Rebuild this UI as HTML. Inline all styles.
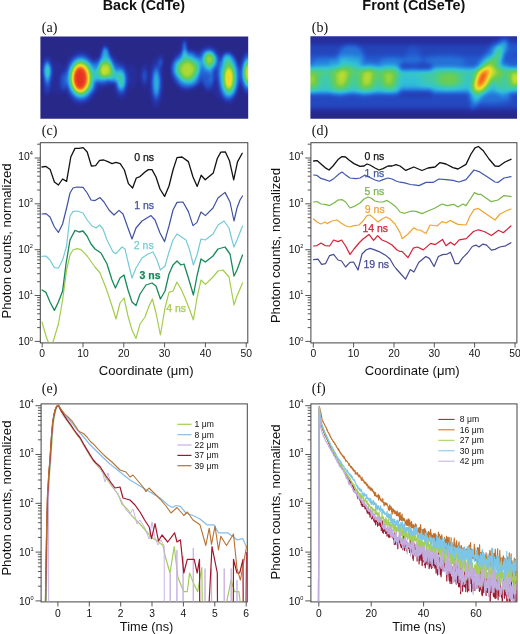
<!DOCTYPE html>
<html lang="en"><head><meta charset="utf-8"><title>Figure</title>
<style>html,body{margin:0;padding:0;background:#fff}svg{display:block}</style>
</head><body>
<svg width="520" height="634" viewBox="0 0 520 634">
<rect width="520" height="634" fill="#fff"/>
<defs>
<filter id="hmA" x="0" y="0" width="100%" height="100%" filterUnits="objectBoundingBox" color-interpolation-filters="sRGB">
<feGaussianBlur stdDeviation="1.7 2.3"/>
<feComponentTransfer><feFuncR type="table" tableValues="0.157 0.154 0.151 0.147 0.144 0.140 0.139 0.145 0.151 0.157 0.170 0.182 0.194 0.219 0.246 0.273 0.327 0.381 0.440 0.542 0.644 0.744 0.836 0.928 0.966 0.973 0.979 0.966 0.952 0.938 0.919 0.901 0.882"/><feFuncG type="table" tableValues="0.157 0.172 0.188 0.215 0.258 0.301 0.350 0.417 0.484 0.552 0.619 0.687 0.754 0.776 0.790 0.803 0.804 0.804 0.806 0.826 0.846 0.864 0.872 0.880 0.819 0.719 0.619 0.510 0.401 0.303 0.248 0.192 0.137"/><feFuncB type="table" tableValues="0.541 0.583 0.624 0.669 0.718 0.767 0.810 0.834 0.859 0.882 0.870 0.857 0.845 0.769 0.680 0.592 0.490 0.388 0.291 0.257 0.223 0.193 0.178 0.162 0.152 0.144 0.137 0.137 0.137 0.137 0.137 0.137 0.137"/><feFuncA type="linear" slope="0" intercept="1"/></feComponentTransfer>
</filter>
<filter id="hmB" x="0" y="0" width="100%" height="100%" filterUnits="objectBoundingBox" color-interpolation-filters="sRGB">
<feGaussianBlur stdDeviation="2.3 2.4"/>
<feComponentTransfer><feFuncR type="table" tableValues="0.157 0.154 0.151 0.147 0.144 0.140 0.139 0.145 0.151 0.157 0.170 0.182 0.194 0.219 0.246 0.273 0.327 0.381 0.440 0.542 0.644 0.744 0.836 0.928 0.966 0.973 0.979 0.966 0.952 0.938 0.919 0.901 0.882"/><feFuncG type="table" tableValues="0.157 0.172 0.188 0.215 0.258 0.301 0.350 0.417 0.484 0.552 0.619 0.687 0.754 0.776 0.790 0.803 0.804 0.804 0.806 0.826 0.846 0.864 0.872 0.880 0.819 0.719 0.619 0.510 0.401 0.303 0.248 0.192 0.137"/><feFuncB type="table" tableValues="0.541 0.583 0.624 0.669 0.718 0.767 0.810 0.834 0.859 0.882 0.870 0.857 0.845 0.769 0.680 0.592 0.490 0.388 0.291 0.257 0.223 0.193 0.178 0.162 0.152 0.144 0.137 0.137 0.137 0.137 0.137 0.137 0.137"/><feFuncA type="linear" slope="0" intercept="1"/></feComponentTransfer>
</filter>
<clipPath id="cA"><rect x="40.4" y="36.4" width="207.8" height="82.4"/></clipPath>
<clipPath id="cB"><rect x="310.4" y="36.2" width="206.6" height="82.6"/></clipPath>
<clipPath id="cC"><rect x="40.8" y="143.1" width="206.5" height="199.2"/></clipPath>
<clipPath id="cD"><rect x="311.3" y="143.2" width="205.1" height="199.2"/></clipPath>
<clipPath id="cE"><rect x="41.6" y="404.3" width="205.2" height="197.1"/></clipPath>
<clipPath id="cF"><rect x="311.4" y="404.3" width="205.2" height="197.2"/></clipPath>
</defs>
<text x="143.9" y="10.4" font-size="14.3" fill="#111" text-anchor="middle" font-weight="bold" font-family='"Liberation Sans", Arial, Helvetica, sans-serif' >Back (CdTe)</text>
<text x="413.8" y="10.4" font-size="14.4" fill="#111" text-anchor="middle" font-weight="bold" font-family='"Liberation Sans", Arial, Helvetica, sans-serif' >Front (CdSeTe)</text>
<text x="41.8" y="32.0" font-size="14" fill="#111" text-anchor="start" font-weight="normal" font-family='"Liberation Serif", "Times New Roman", serif' >(a)</text>
<text x="311.8" y="32.0" font-size="14" fill="#111" text-anchor="start" font-weight="normal" font-family='"Liberation Serif", "Times New Roman", serif' >(b)</text>
<text x="41.8" y="134.5" font-size="14" fill="#111" text-anchor="start" font-weight="normal" font-family='"Liberation Serif", "Times New Roman", serif' >(c)</text>
<text x="311.8" y="134.5" font-size="14" fill="#111" text-anchor="start" font-weight="normal" font-family='"Liberation Serif", "Times New Roman", serif' >(d)</text>
<text x="41.8" y="392.5" font-size="14" fill="#111" text-anchor="start" font-weight="normal" font-family='"Liberation Serif", "Times New Roman", serif' >(e)</text>
<text x="311.8" y="392.5" font-size="14" fill="#111" text-anchor="start" font-weight="normal" font-family='"Liberation Serif", "Times New Roman", serif' >(f)</text>
<g clip-path="url(#cA)"><g filter="url(#hmA)">
<rect x="30" y="26" width="230" height="104" fill="#000"/>
<ellipse cx="47.3" cy="71.0" rx="5.8" ry="14.7" fill="#fff" fill-opacity="0.09"/>
<ellipse cx="47.3" cy="71.0" rx="4.0" ry="10.5" fill="#fff" fill-opacity="0.14"/>
<ellipse cx="47.3" cy="71.0" rx="3.1" ry="8.2" fill="#fff" fill-opacity="0.16"/>
<ellipse cx="47.3" cy="71.0" rx="2.2" ry="5.8" fill="#fff" fill-opacity="0.14"/>
<ellipse cx="47.0" cy="86.0" rx="3.4" ry="9.0" fill="#fff" fill-opacity="0.12"/>
<ellipse cx="63.0" cy="82.0" rx="3.4" ry="10.0" fill="#fff" fill-opacity="0.12"/>
<ellipse cx="57.0" cy="78.0" rx="10.0" ry="16.0" fill="#fff" fill-opacity="0.04"/>
<ellipse cx="81.0" cy="78.0" rx="17.0" ry="26.0" fill="#fff" fill-opacity="0.12"/>
<ellipse cx="95.0" cy="76.0" rx="12.0" ry="16.0" fill="#fff" fill-opacity="0.06"/>
<ellipse cx="200.0" cy="68.0" rx="22.0" ry="18.0" fill="#fff" fill-opacity="0.06"/>
<ellipse cx="225.0" cy="76.0" rx="16.0" ry="24.0" fill="#fff" fill-opacity="0.05"/>
<ellipse cx="81.0" cy="78.0" rx="13.8" ry="21.0" fill="#fff" fill-opacity="0.26"/>
<ellipse cx="80.8" cy="78.0" rx="10.6" ry="16.4" fill="#fff" fill-opacity="0.42"/>
<ellipse cx="80.4" cy="78.2" rx="7.8" ry="13.0" fill="#fff" fill-opacity="0.62"/>
<ellipse cx="80.2" cy="78.4" rx="5.4" ry="10.0" fill="#fff" fill-opacity="0.75"/>
<ellipse cx="105.5" cy="62.0" rx="5.5" ry="15.0" fill="#fff" fill-opacity="0.20"/>
<ellipse cx="105.0" cy="52.0" rx="3.2" ry="6.0" fill="#fff" fill-opacity="0.14"/>
<ellipse cx="106.0" cy="70.0" rx="13.8" ry="15.4" fill="#fff" fill-opacity="0.13"/>
<ellipse cx="106.0" cy="70.0" rx="9.5" ry="11.0" fill="#fff" fill-opacity="0.19"/>
<ellipse cx="106.0" cy="70.0" rx="7.4" ry="8.6" fill="#fff" fill-opacity="0.23"/>
<ellipse cx="106.0" cy="70.0" rx="5.2" ry="6.1" fill="#fff" fill-opacity="0.21"/>
<ellipse cx="99.0" cy="75.0" rx="5.0" ry="7.0" fill="#fff" fill-opacity="0.16"/>
<ellipse cx="113.5" cy="76.0" rx="5.0" ry="6.0" fill="#fff" fill-opacity="0.20"/>
<ellipse cx="121.2" cy="80.0" rx="7.8" ry="18.2" fill="#fff" fill-opacity="0.09"/>
<ellipse cx="121.2" cy="80.0" rx="5.4" ry="13.0" fill="#fff" fill-opacity="0.14"/>
<ellipse cx="121.2" cy="80.0" rx="4.2" ry="10.1" fill="#fff" fill-opacity="0.17"/>
<ellipse cx="121.2" cy="80.0" rx="3.0" ry="7.2" fill="#fff" fill-opacity="0.15"/>
<ellipse cx="132.0" cy="76.0" rx="5.0" ry="12.0" fill="#fff" fill-opacity="0.05"/>
<ellipse cx="144.5" cy="76.0" rx="5.2" ry="14.0" fill="#fff" fill-opacity="0.03"/>
<ellipse cx="144.5" cy="76.0" rx="3.6" ry="10.0" fill="#fff" fill-opacity="0.05"/>
<ellipse cx="144.5" cy="76.0" rx="2.8" ry="7.8" fill="#fff" fill-opacity="0.06"/>
<ellipse cx="144.5" cy="76.0" rx="2.0" ry="5.5" fill="#fff" fill-opacity="0.05"/>
<ellipse cx="156.3" cy="83.0" rx="7.0" ry="25.2" fill="#fff" fill-opacity="0.07"/>
<ellipse cx="156.3" cy="83.0" rx="4.8" ry="18.0" fill="#fff" fill-opacity="0.11"/>
<ellipse cx="156.3" cy="83.0" rx="3.7" ry="14.0" fill="#fff" fill-opacity="0.12"/>
<ellipse cx="156.3" cy="83.0" rx="2.6" ry="9.9" fill="#fff" fill-opacity="0.11"/>
<ellipse cx="160.8" cy="62.0" rx="3.5" ry="8.4" fill="#fff" fill-opacity="0.04"/>
<ellipse cx="160.8" cy="62.0" rx="2.4" ry="6.0" fill="#fff" fill-opacity="0.05"/>
<ellipse cx="160.8" cy="62.0" rx="1.9" ry="4.7" fill="#fff" fill-opacity="0.06"/>
<ellipse cx="160.8" cy="62.0" rx="1.3" ry="3.3" fill="#fff" fill-opacity="0.06"/>
<ellipse cx="187.0" cy="70.0" rx="13.0" ry="19.0" fill="#fff" fill-opacity="0.10"/>
<ellipse cx="187.3" cy="69.8" rx="16.7" ry="19.6" fill="#fff" fill-opacity="0.13"/>
<ellipse cx="187.3" cy="69.8" rx="11.5" ry="14.0" fill="#fff" fill-opacity="0.20"/>
<ellipse cx="187.3" cy="69.8" rx="9.0" ry="10.9" fill="#fff" fill-opacity="0.23"/>
<ellipse cx="187.3" cy="69.8" rx="6.3" ry="7.7" fill="#fff" fill-opacity="0.21"/>
<ellipse cx="184.5" cy="49.0" rx="2.6" ry="9.0" fill="#fff" fill-opacity="0.24"/>
<ellipse cx="176.0" cy="68.0" rx="4.5" ry="8.0" fill="#fff" fill-opacity="0.12"/>
<ellipse cx="197.5" cy="66.0" rx="4.0" ry="8.0" fill="#fff" fill-opacity="0.12"/>
<ellipse cx="209.2" cy="59.4" rx="10.4" ry="12.9" fill="#fff" fill-opacity="0.13"/>
<ellipse cx="209.2" cy="59.4" rx="7.2" ry="9.2" fill="#fff" fill-opacity="0.20"/>
<ellipse cx="209.2" cy="59.4" rx="5.6" ry="7.2" fill="#fff" fill-opacity="0.24"/>
<ellipse cx="209.2" cy="59.4" rx="4.0" ry="5.1" fill="#fff" fill-opacity="0.22"/>
<ellipse cx="208.0" cy="78.0" rx="5.5" ry="13.0" fill="#fff" fill-opacity="0.14"/>
<ellipse cx="228.5" cy="76.0" rx="10.0" ry="22.0" fill="#fff" fill-opacity="0.12"/>
<ellipse cx="228.8" cy="77.5" rx="10.7" ry="25.2" fill="#fff" fill-opacity="0.13"/>
<ellipse cx="228.8" cy="77.5" rx="7.4" ry="18.0" fill="#fff" fill-opacity="0.20"/>
<ellipse cx="228.8" cy="77.5" rx="5.8" ry="14.0" fill="#fff" fill-opacity="0.23"/>
<ellipse cx="228.8" cy="77.5" rx="4.1" ry="9.9" fill="#fff" fill-opacity="0.21"/>
<ellipse cx="229.0" cy="79.0" rx="3.6" ry="10.0" fill="#fff" fill-opacity="0.28"/>
<ellipse cx="226.5" cy="59.0" rx="4.5" ry="6.0" fill="#fff" fill-opacity="0.14"/>
<ellipse cx="249.0" cy="73.0" rx="9.4" ry="21.0" fill="#fff" fill-opacity="0.17"/>
<ellipse cx="249.0" cy="73.0" rx="6.5" ry="15.0" fill="#fff" fill-opacity="0.26"/>
<ellipse cx="249.0" cy="73.0" rx="5.1" ry="11.7" fill="#fff" fill-opacity="0.30"/>
<ellipse cx="249.0" cy="73.0" rx="3.6" ry="8.2" fill="#fff" fill-opacity="0.27"/>
</g></g>
<g clip-path="url(#cB)"><g filter="url(#hmB)">
<rect x="300" y="26" width="228" height="104" fill="#000"/>
<rect x="300" y="26" width="228" height="86" fill="#fff" fill-opacity="0.05"/>
<rect x="300" y="44" width="228" height="30" fill="#fff" fill-opacity="0.09"/>
<rect x="300" y="56" width="228" height="20" fill="#fff" fill-opacity="0.07"/>
<ellipse cx="351.0" cy="57.0" rx="13.0" ry="13.0" fill="#fff" fill-opacity="0.12"/>
<ellipse cx="345.0" cy="63.0" rx="16.0" ry="7.0" fill="#fff" fill-opacity="0.08"/>
<ellipse cx="324.0" cy="63.0" rx="12.0" ry="6.0" fill="#fff" fill-opacity="0.07"/>
<ellipse cx="392.0" cy="63.0" rx="13.0" ry="6.0" fill="#fff" fill-opacity="0.08"/>
<ellipse cx="445.0" cy="62.0" rx="20.0" ry="8.0" fill="#fff" fill-opacity="0.05"/>
<ellipse cx="413.0" cy="58.0" rx="8.0" ry="12.0" fill="#fff" fill-opacity="0.05"/>
<rect x="300" y="90" width="228" height="19" fill="#fff" fill-opacity="0.10"/>
<rect x="300" y="68.5" width="228" height="23.5" fill="#fff" fill-opacity="0.29"/>
<rect x="300" y="64.5" width="98" height="29.5" fill="#fff" fill-opacity="0.10"/>
<rect x="300" y="73" width="228" height="14" fill="#fff" fill-opacity="0.07"/>
<rect x="400" y="64" width="32" height="7" fill="#000" fill-opacity="0.45"/>
<rect x="400" y="89.5" width="32" height="6" fill="#000" fill-opacity="0.45"/>
<ellipse cx="312.0" cy="80.5" rx="10.2" ry="12.6" fill="#fff" fill-opacity="0.06"/>
<ellipse cx="312.0" cy="80.5" rx="7.0" ry="9.0" fill="#fff" fill-opacity="0.09"/>
<ellipse cx="312.0" cy="80.5" rx="5.5" ry="7.0" fill="#fff" fill-opacity="0.11"/>
<ellipse cx="312.0" cy="80.5" rx="3.9" ry="5.0" fill="#fff" fill-opacity="0.10"/>
<ellipse cx="341.5" cy="79.0" rx="13.0" ry="18.2" fill="#fff" fill-opacity="0.07" transform="translate(341.5 79.0) rotate(15.0) skewX(0.0) translate(-341.5 -79.0)"/>
<ellipse cx="341.5" cy="79.0" rx="9.0" ry="13.0" fill="#fff" fill-opacity="0.10" transform="translate(341.5 79.0) rotate(15.0) skewX(0.0) translate(-341.5 -79.0)"/>
<ellipse cx="341.5" cy="79.0" rx="7.0" ry="10.1" fill="#fff" fill-opacity="0.12" transform="translate(341.5 79.0) rotate(15.0) skewX(0.0) translate(-341.5 -79.0)"/>
<ellipse cx="341.5" cy="79.0" rx="5.0" ry="7.2" fill="#fff" fill-opacity="0.11" transform="translate(341.5 79.0) rotate(15.0) skewX(0.0) translate(-341.5 -79.0)"/>
<ellipse cx="341.8" cy="78.5" rx="2.6" ry="4.5" fill="#fff" fill-opacity="0.10" transform="translate(341.8 78.5) rotate(15.0) skewX(0.0) translate(-341.8 -78.5)"/>
<ellipse cx="367.0" cy="79.5" rx="12.5" ry="17.5" fill="#fff" fill-opacity="0.07" transform="translate(367.0 79.5) rotate(15.0) skewX(0.0) translate(-367.0 -79.5)"/>
<ellipse cx="367.0" cy="79.5" rx="8.6" ry="12.5" fill="#fff" fill-opacity="0.10" transform="translate(367.0 79.5) rotate(15.0) skewX(0.0) translate(-367.0 -79.5)"/>
<ellipse cx="367.0" cy="79.5" rx="6.7" ry="9.8" fill="#fff" fill-opacity="0.12" transform="translate(367.0 79.5) rotate(15.0) skewX(0.0) translate(-367.0 -79.5)"/>
<ellipse cx="367.0" cy="79.5" rx="4.7" ry="6.9" fill="#fff" fill-opacity="0.11" transform="translate(367.0 79.5) rotate(15.0) skewX(0.0) translate(-367.0 -79.5)"/>
<ellipse cx="367.3" cy="79.0" rx="2.6" ry="4.5" fill="#fff" fill-opacity="0.11" transform="translate(367.3 79.0) rotate(15.0) skewX(0.0) translate(-367.3 -79.0)"/>
<ellipse cx="388.8" cy="79.5" rx="11.9" ry="14.0" fill="#fff" fill-opacity="0.06"/>
<ellipse cx="388.8" cy="79.5" rx="8.2" ry="10.0" fill="#fff" fill-opacity="0.09"/>
<ellipse cx="388.8" cy="79.5" rx="6.4" ry="7.8" fill="#fff" fill-opacity="0.11"/>
<ellipse cx="388.8" cy="79.5" rx="4.5" ry="5.5" fill="#fff" fill-opacity="0.10"/>
<ellipse cx="448.5" cy="80.0" rx="23.2" ry="11.9" fill="#fff" fill-opacity="0.06"/>
<ellipse cx="448.5" cy="80.0" rx="16.0" ry="8.5" fill="#fff" fill-opacity="0.09"/>
<ellipse cx="448.5" cy="80.0" rx="12.5" ry="6.6" fill="#fff" fill-opacity="0.10"/>
<ellipse cx="448.5" cy="80.0" rx="8.8" ry="4.7" fill="#fff" fill-opacity="0.09"/>
<ellipse cx="426.0" cy="80.0" rx="8.0" ry="8.0" fill="#fff" fill-opacity="0.06"/>
<ellipse cx="486.0" cy="73.0" rx="12.0" ry="28.0" fill="#fff" fill-opacity="0.13" transform="translate(486.0 73.0) rotate(0.0) skewX(-22.0) translate(-486.0 -73.0)"/>
<ellipse cx="484.0" cy="77.0" rx="9.5" ry="19.0" fill="#fff" fill-opacity="0.24" transform="translate(484.0 77.0) rotate(0.0) skewX(-22.0) translate(-484.0 -77.0)"/>
<ellipse cx="483.0" cy="78.2" rx="6.8" ry="13.5" fill="#fff" fill-opacity="0.36" transform="translate(483.0 78.2) rotate(0.0) skewX(-22.0) translate(-483.0 -78.2)"/>
<ellipse cx="482.4" cy="78.6" rx="4.6" ry="9.6" fill="#fff" fill-opacity="0.42" transform="translate(482.4 78.6) rotate(0.0) skewX(-22.0) translate(-482.4 -78.6)"/>
<ellipse cx="482.0" cy="78.8" rx="2.3" ry="5.8" fill="#fff" fill-opacity="0.45" transform="translate(482.0 78.8) rotate(0.0) skewX(-22.0) translate(-482.0 -78.8)"/>
<ellipse cx="500.5" cy="50.0" rx="5.5" ry="11.0" fill="#fff" fill-opacity="0.20" transform="translate(500.5 50.0) rotate(0.0) skewX(-22.0) translate(-500.5 -50.0)"/>
<ellipse cx="494.0" cy="62.0" rx="7.0" ry="10.0" fill="#fff" fill-opacity="0.14" transform="translate(494.0 62.0) rotate(0.0) skewX(-22.0) translate(-494.0 -62.0)"/>
<ellipse cx="504.0" cy="80.0" rx="10.0" ry="16.0" fill="#fff" fill-opacity="0.14"/>
<ellipse cx="490.0" cy="98.0" rx="22.0" ry="6.0" fill="#fff" fill-opacity="0.10"/>
<ellipse cx="506.0" cy="46.0" rx="16.0" ry="9.0" fill="#fff" fill-opacity="0.07"/>
<ellipse cx="475.0" cy="103.0" rx="3.4" ry="7.0" fill="#fff" fill-opacity="0.12" transform="translate(475.0 103.0) rotate(0.0) skewX(-22.0) translate(-475.0 -103.0)"/>
<ellipse cx="497.0" cy="72.0" rx="6.0" ry="12.0" fill="#fff" fill-opacity="0.10"/>
<ellipse cx="516.0" cy="79.0" rx="8.0" ry="12.6" fill="#fff" fill-opacity="0.11"/>
<ellipse cx="516.0" cy="79.0" rx="5.5" ry="9.0" fill="#fff" fill-opacity="0.16"/>
<ellipse cx="516.0" cy="79.0" rx="4.3" ry="7.0" fill="#fff" fill-opacity="0.19"/>
<ellipse cx="516.0" cy="79.0" rx="3.0" ry="5.0" fill="#fff" fill-opacity="0.17"/>
</g></g>
<rect x="40.3" y="142.7" width="207.5" height="200.2" fill="none" stroke="#444" stroke-width="1"/>
<path d="M40.3 341.4h-5.6M40.3 327.6h-3.2M40.3 319.5h-3.2M40.3 313.8h-3.2M40.3 309.4h-3.2M40.3 305.7h-3.2M40.3 302.7h-3.2M40.3 300.0h-3.2M40.3 297.6h-3.2M40.3 295.5h-5.6M40.3 281.7h-3.2M40.3 273.7h-3.2M40.3 267.9h-3.2M40.3 263.5h-3.2M40.3 259.9h-3.2M40.3 256.8h-3.2M40.3 254.1h-3.2M40.3 251.8h-3.2M40.3 249.7h-5.6M40.3 235.9h-3.2M40.3 227.8h-3.2M40.3 222.1h-3.2M40.3 217.7h-3.2M40.3 214.0h-3.2M40.3 211.0h-3.2M40.3 208.3h-3.2M40.3 205.9h-3.2M40.3 203.8h-5.6M40.3 190.0h-3.2M40.3 182.0h-3.2M40.3 176.2h-3.2M40.3 171.8h-3.2M40.3 168.2h-3.2M40.3 165.1h-3.2M40.3 162.4h-3.2M40.3 160.1h-3.2M40.3 158.0h-5.6M40.3 144.2h-3.2" stroke="#444" stroke-width="0.9" fill="none"/>
<text x="32.8" y="345.4" font-size="10.3" fill="#111" text-anchor="end" font-family='"Liberation Sans", Arial, Helvetica, sans-serif'>10<tspan font-size="5.6" dy="-4.9">0</tspan></text>
<text x="32.8" y="299.1" font-size="10.3" fill="#111" text-anchor="end" font-family='"Liberation Sans", Arial, Helvetica, sans-serif'>10<tspan font-size="5.6" dy="-4.9">1</tspan></text>
<text x="32.8" y="252.9" font-size="10.3" fill="#111" text-anchor="end" font-family='"Liberation Sans", Arial, Helvetica, sans-serif'>10<tspan font-size="5.6" dy="-4.9">2</tspan></text>
<text x="32.8" y="206.6" font-size="10.3" fill="#111" text-anchor="end" font-family='"Liberation Sans", Arial, Helvetica, sans-serif'>10<tspan font-size="5.6" dy="-4.9">3</tspan></text>
<text x="32.8" y="160.3" font-size="10.3" fill="#111" text-anchor="end" font-family='"Liberation Sans", Arial, Helvetica, sans-serif'>10<tspan font-size="5.6" dy="-4.9">4</tspan></text>
<text transform="translate(10.6 241.0) rotate(-90)" font-size="13.1" fill="#111" text-anchor="middle" font-family='"Liberation Sans", Arial, Helvetica, sans-serif'>Photon counts, normalized</text>
<text x="42.2" y="357.2" font-size="10.3" fill="#111" text-anchor="middle" font-weight="normal" font-family='"Liberation Sans", Arial, Helvetica, sans-serif' >0</text>
<text x="83.0" y="357.2" font-size="10.3" fill="#111" text-anchor="middle" font-weight="normal" font-family='"Liberation Sans", Arial, Helvetica, sans-serif' >10</text>
<text x="123.8" y="357.2" font-size="10.3" fill="#111" text-anchor="middle" font-weight="normal" font-family='"Liberation Sans", Arial, Helvetica, sans-serif' >20</text>
<text x="164.6" y="357.2" font-size="10.3" fill="#111" text-anchor="middle" font-weight="normal" font-family='"Liberation Sans", Arial, Helvetica, sans-serif' >30</text>
<text x="205.4" y="357.2" font-size="10.3" fill="#111" text-anchor="middle" font-weight="normal" font-family='"Liberation Sans", Arial, Helvetica, sans-serif' >40</text>
<text x="246.2" y="357.2" font-size="10.3" fill="#111" text-anchor="middle" font-weight="normal" font-family='"Liberation Sans", Arial, Helvetica, sans-serif' >50</text>
<path d="M42.2 342.8v4.6M83.0 342.8v4.6M123.8 342.8v4.6M164.6 342.8v4.6M205.4 342.8v4.6M246.2 342.8v4.6" stroke="#444" stroke-width="0.9" fill="none"/>
<text x="146.2" y="374.6" font-size="13.1" fill="#111" text-anchor="middle" font-weight="normal" font-family='"Liberation Sans", Arial, Helvetica, sans-serif' >Coordinate (μm)</text>
<g clip-path="url(#cC)">
<polyline points="42.0,322.0 46.0,336.0 49.0,344.0 53.0,342.0 58.4,324.0 62.6,300.0 66.6,270.0 70.0,255.0 73.0,250.0 77.0,248.6 81.0,249.6 87.2,256.0 95.0,267.0 100.0,273.0 106.0,288.0 112.0,306.0 116.0,319.0 120.0,303.0 124.0,298.0 128.0,316.0 132.0,330.0 136.0,338.4 140.0,324.0 145.0,317.0 149.0,306.0 152.4,299.0 156.0,313.0 160.4,335.0 165.0,308.0 169.0,292.4 173.0,291.0 177.0,282.0 181.0,289.0 185.0,298.0 189.0,308.0 193.4,320.0 197.0,298.0 201.0,280.0 205.4,284.4 213.0,277.0 218.0,271.0 223.0,270.0 229.0,277.0 234.0,305.0 237.0,296.0 242.5,283.0" fill="none" stroke="#a3cc4a" stroke-width="1.2" stroke-linejoin="round" stroke-linecap="round" />
<polyline points="42.0,290.0 46.0,292.4 50.0,302.0 54.4,310.4 58.4,302.0 62.6,291.0 66.0,264.0 70.0,240.0 71.0,238.0 75.0,230.4 79.0,232.0 83.0,231.0 87.0,236.0 91.0,244.0 95.0,249.0 101.0,253.0 107.0,264.0 112.0,280.0 115.4,288.0 120.0,278.0 124.0,275.0 128.0,290.0 132.0,302.0 136.0,305.6 140.0,294.0 146.0,285.0 152.0,283.0 156.0,286.0 160.4,299.0 165.0,291.0 169.0,274.0 173.0,265.0 177.0,261.0 181.0,265.0 184.0,264.0 189.0,280.0 193.4,295.0 197.0,276.0 201.0,259.0 205.4,262.0 213.0,256.0 218.0,249.0 225.0,247.0 230.0,254.0 234.0,276.0 237.0,270.0 242.5,255.0" fill="none" stroke="#158a5a" stroke-width="1.3" stroke-linejoin="round" stroke-linecap="round" />
<polyline points="42.0,256.4 46.0,256.0 50.0,260.0 54.4,267.6 58.4,268.0 62.6,260.0 66.6,246.0 70.0,216.0 73.0,211.6 77.0,211.0 83.0,213.0 87.2,220.0 92.0,226.0 96.0,228.0 99.6,225.0 103.0,229.0 107.0,240.0 113.0,252.0 116.0,253.6 122.0,247.0 125.0,249.0 129.0,266.0 132.0,278.0 136.0,268.0 142.0,258.0 148.0,254.0 153.0,252.0 157.0,260.0 160.4,270.0 165.0,266.0 169.0,252.0 173.0,240.0 177.0,234.0 183.0,238.0 186.0,240.0 189.6,250.0 193.4,265.0 197.0,255.0 201.0,239.0 205.4,240.0 213.0,234.0 218.0,225.0 224.0,221.0 229.0,228.0 232.0,240.0 234.0,247.0 237.0,240.0 242.5,226.0" fill="none" stroke="#74cbd6" stroke-width="1.2" stroke-linejoin="round" stroke-linecap="round" />
<polyline points="42.0,214.0 46.0,213.6 50.0,217.0 54.4,227.0 58.4,232.4 62.6,224.0 66.6,208.0 70.0,193.0 73.0,188.0 77.0,187.0 83.0,187.4 87.2,193.0 91.0,200.0 95.0,200.6 100.0,197.6 104.0,202.0 109.0,210.0 114.0,215.0 119.0,210.4 123.0,214.0 128.0,228.0 132.0,239.0 136.0,228.0 142.0,221.0 151.0,215.6 155.0,220.0 160.0,233.0 164.6,241.6 169.0,226.0 173.0,210.0 177.0,202.4 183.0,202.0 188.4,211.6 193.0,225.6 197.0,222.4 201.0,212.0 205.4,215.6 213.0,208.0 218.0,198.0 225.0,192.4 230.0,202.0 234.0,221.0 237.0,208.0 240.0,200.0 242.5,196.0" fill="none" stroke="#3f51a3" stroke-width="1.2" stroke-linejoin="round" stroke-linecap="round" />
<polyline points="42.0,167.0 46.0,166.4 50.2,169.6 54.4,182.0 58.4,185.0 62.6,179.0 66.6,181.4 70.8,157.0 75.0,148.4 79.0,148.4 83.2,147.6 87.2,152.0 91.4,166.0 95.6,165.6 99.6,160.4 103.8,160.0 107.8,161.6 112.0,163.6 116.0,162.4 120.2,163.6 124.4,170.0 128.4,183.6 132.6,188.0 136.3,178.0 140.0,176.6 145.0,172.0 148.4,169.6 152.0,169.6 156.0,177.0 160.0,189.0 164.6,196.4 169.0,186.0 173.0,170.0 177.0,157.6 182.0,157.0 188.4,161.6 193.0,177.0 197.2,186.4 201.2,175.2 205.2,179.8 213.3,172.9 217.3,158.5 220.8,152.1 225.4,151.9 229.5,160.8 233.7,179.8 237.5,161.9 242.2,153.3" fill="none" stroke="#111" stroke-width="1.3" stroke-linejoin="round" stroke-linecap="round" />
</g>
<text x="134.2" y="161.4" font-size="10.5" fill="#111" text-anchor="start" font-weight="normal" font-family='"Liberation Sans", Arial, Helvetica, sans-serif' stroke="#111" stroke-width="0.25">0 ns</text>
<text x="134.2" y="209.2" font-size="10.5" fill="#3f51a3" text-anchor="start" font-weight="normal" font-family='"Liberation Sans", Arial, Helvetica, sans-serif' stroke="#3f51a3" stroke-width="0.25">1 ns</text>
<text x="133.8" y="249.2" font-size="10.5" fill="#74cbd6" text-anchor="start" font-weight="normal" font-family='"Liberation Sans", Arial, Helvetica, sans-serif' stroke="#74cbd6" stroke-width="0.25">2 ns</text>
<text x="139.6" y="279.2" font-size="10.5" fill="#158a5a" text-anchor="start" font-weight="bold" font-family='"Liberation Sans", Arial, Helvetica, sans-serif' stroke="#158a5a" stroke-width="0.25">3 ns</text>
<text x="166.2" y="312.2" font-size="10.5" fill="#a3cc4a" text-anchor="start" font-weight="normal" font-family='"Liberation Sans", Arial, Helvetica, sans-serif' stroke="#a3cc4a" stroke-width="0.25">4 ns</text>
<rect x="310.9" y="142.7" width="206.0" height="200.2" fill="none" stroke="#444" stroke-width="1"/>
<path d="M310.9 341.4h-5.6M310.9 327.6h-3.2M310.9 319.5h-3.2M310.9 313.8h-3.2M310.9 309.4h-3.2M310.9 305.7h-3.2M310.9 302.7h-3.2M310.9 300.0h-3.2M310.9 297.6h-3.2M310.9 295.5h-5.6M310.9 281.7h-3.2M310.9 273.7h-3.2M310.9 267.9h-3.2M310.9 263.5h-3.2M310.9 259.9h-3.2M310.9 256.8h-3.2M310.9 254.1h-3.2M310.9 251.8h-3.2M310.9 249.7h-5.6M310.9 235.9h-3.2M310.9 227.8h-3.2M310.9 222.1h-3.2M310.9 217.7h-3.2M310.9 214.0h-3.2M310.9 211.0h-3.2M310.9 208.3h-3.2M310.9 205.9h-3.2M310.9 203.8h-5.6M310.9 190.0h-3.2M310.9 182.0h-3.2M310.9 176.2h-3.2M310.9 171.8h-3.2M310.9 168.2h-3.2M310.9 165.1h-3.2M310.9 162.4h-3.2M310.9 160.1h-3.2M310.9 158.0h-5.6M310.9 144.2h-3.2" stroke="#444" stroke-width="0.9" fill="none"/>
<text x="303.4" y="345.4" font-size="10.3" fill="#111" text-anchor="end" font-family='"Liberation Sans", Arial, Helvetica, sans-serif'>10<tspan font-size="5.6" dy="-4.9">0</tspan></text>
<text x="303.4" y="299.1" font-size="10.3" fill="#111" text-anchor="end" font-family='"Liberation Sans", Arial, Helvetica, sans-serif'>10<tspan font-size="5.6" dy="-4.9">1</tspan></text>
<text x="303.4" y="252.9" font-size="10.3" fill="#111" text-anchor="end" font-family='"Liberation Sans", Arial, Helvetica, sans-serif'>10<tspan font-size="5.6" dy="-4.9">2</tspan></text>
<text x="303.4" y="206.6" font-size="10.3" fill="#111" text-anchor="end" font-family='"Liberation Sans", Arial, Helvetica, sans-serif'>10<tspan font-size="5.6" dy="-4.9">3</tspan></text>
<text x="303.4" y="160.3" font-size="10.3" fill="#111" text-anchor="end" font-family='"Liberation Sans", Arial, Helvetica, sans-serif'>10<tspan font-size="5.6" dy="-4.9">4</tspan></text>
<text transform="translate(279.6 245.6) rotate(-90)" font-size="13.1" fill="#111" text-anchor="middle" font-family='"Liberation Sans", Arial, Helvetica, sans-serif'>Photon counts, normalized</text>
<text x="313.3" y="357.2" font-size="10.3" fill="#111" text-anchor="middle" font-weight="normal" font-family='"Liberation Sans", Arial, Helvetica, sans-serif' >0</text>
<text x="353.6" y="357.2" font-size="10.3" fill="#111" text-anchor="middle" font-weight="normal" font-family='"Liberation Sans", Arial, Helvetica, sans-serif' >10</text>
<text x="394.0" y="357.2" font-size="10.3" fill="#111" text-anchor="middle" font-weight="normal" font-family='"Liberation Sans", Arial, Helvetica, sans-serif' >20</text>
<text x="434.3" y="357.2" font-size="10.3" fill="#111" text-anchor="middle" font-weight="normal" font-family='"Liberation Sans", Arial, Helvetica, sans-serif' >30</text>
<text x="474.6" y="357.2" font-size="10.3" fill="#111" text-anchor="middle" font-weight="normal" font-family='"Liberation Sans", Arial, Helvetica, sans-serif' >40</text>
<text x="515.0" y="357.2" font-size="10.3" fill="#111" text-anchor="middle" font-weight="normal" font-family='"Liberation Sans", Arial, Helvetica, sans-serif' >50</text>
<path d="M313.3 342.9v4.6M353.6 342.9v4.6M394.0 342.9v4.6M434.3 342.9v4.6M474.6 342.9v4.6M515.0 342.9v4.6" stroke="#444" stroke-width="0.9" fill="none"/>
<text x="412.3" y="375.2" font-size="13.1" fill="#111" text-anchor="middle" font-weight="normal" font-family='"Liberation Sans", Arial, Helvetica, sans-serif' >Coordinate (μm)</text>
<g clip-path="url(#cD)">
<polyline points="313.6,259.6 318.0,259.2 321.6,264.4 325.6,263.6 329.6,255.6 333.6,254.4 338.0,260.0 341.6,261.0 345.6,267.0 350.0,262.4 353.6,262.0 358.0,270.0 362.0,254.0 366.0,250.0 370.0,248.4 374.0,249.6 379.0,251.6 386.0,255.6 390.0,259.0 394.0,266.0 396.0,268.5 400.0,273.0 405.5,279.2 410.3,269.6 413.9,272.0 418.7,262.5 425.8,256.5 429.4,258.4 434.1,266.5 438.4,256.5 442.5,254.6 447.3,254.1 450.4,252.2 455.1,263.7 458.5,263.7 462.8,257.7 467.5,253.0 472.3,246.5 475.9,245.1 479.0,247.0 483.0,244.1 486.6,245.1 491.4,250.1 495.0,249.4 499.7,247.0 505.7,245.8 510.9,242.7" fill="none" stroke="#474a94" stroke-width="1.2" stroke-linejoin="round" stroke-linecap="round" />
<polyline points="313.6,246.0 317.0,245.6 321.0,243.0 325.0,245.6 329.6,246.0 333.6,240.0 338.0,241.6 341.6,240.0 345.6,246.0 350.0,254.4 354.0,249.0 359.0,243.0 363.0,239.0 369.0,234.4 373.6,240.4 377.6,235.6 382.0,240.0 387.0,242.0 392.0,245.0 397.0,250.0 400.0,251.5 402.0,251.3 408.0,257.7 413.2,248.2 417.5,247.0 423.4,249.9 430.6,243.4 435.3,244.6 442.5,239.4 446.0,245.8 450.4,242.2 454.4,245.1 459.2,239.8 466.3,238.7 473.5,231.5 478.3,229.8 484.2,231.5 491.4,235.6 498.5,230.3 503.3,232.7 510.9,226.0" fill="none" stroke="#d6203a" stroke-width="1.2" stroke-linejoin="round" stroke-linecap="round" />
<polyline points="313.6,219.0 317.0,222.0 321.0,224.0 325.0,222.0 327.0,223.6 332.0,221.0 337.0,220.0 341.0,223.0 346.0,226.0 350.0,227.0 354.0,225.6 359.0,225.0 363.0,221.0 367.0,215.6 370.0,215.0 374.0,218.4 378.0,222.0 382.0,219.0 386.0,217.0 390.0,219.0 395.0,224.0 400.0,232.6 402.3,238.7 408.0,234.0 413.8,227.8 417.3,230.0 420.0,230.0 426.0,233.6 430.0,225.0 437.0,226.0 442.0,221.6 446.0,223.0 450.0,220.4 458.0,224.4 466.0,225.0 470.0,216.0 474.0,209.6 478.4,208.4 484.0,212.4 495.0,220.0 500.0,214.0 506.0,211.0 511.0,209.0" fill="none" stroke="#f0a52e" stroke-width="1.2" stroke-linejoin="round" stroke-linecap="round" />
<polyline points="313.6,202.0 317.0,201.6 321.0,204.0 325.0,204.4 329.6,205.6 334.0,203.0 338.0,200.0 342.0,199.6 345.6,202.0 350.0,208.0 354.0,206.4 360.0,203.0 364.0,199.0 368.0,197.0 371.0,198.0 375.0,201.0 379.0,202.0 383.0,202.0 387.0,200.4 391.0,203.0 396.0,207.0 400.0,212.0 404.6,213.3 411.5,211.0 416.0,211.4 422.0,213.6 428.0,211.0 435.0,208.0 442.0,204.0 447.0,205.6 454.0,204.4 458.0,207.0 463.0,204.0 466.0,205.6 471.0,198.0 474.4,192.6 478.0,194.4 481.0,194.4 486.0,198.0 491.0,201.6 498.0,200.0 504.0,195.6 511.0,196.6" fill="none" stroke="#7ab648" stroke-width="1.2" stroke-linejoin="round" stroke-linecap="round" />
<polyline points="313.6,175.0 317.0,175.4 321.0,178.4 325.0,179.6 329.6,181.2 334.0,178.4 339.0,174.0 342.0,172.0 345.0,174.4 350.0,178.0 356.0,178.6 360.0,178.0 365.0,175.0 369.0,177.0 375.0,180.0 379.0,181.2 383.0,179.6 388.0,178.0 392.0,179.0 396.0,181.0 400.0,182.2 404.6,182.8 410.4,184.5 416.0,185.2 419.0,185.6 426.0,182.4 433.0,182.4 439.0,179.0 446.0,179.6 453.0,180.4 459.0,182.0 466.0,179.6 474.0,170.0 479.0,171.6 486.0,176.0 495.0,182.0 498.0,182.4 504.0,178.0 511.0,176.6" fill="none" stroke="#3f57b0" stroke-width="1.2" stroke-linejoin="round" stroke-linecap="round" />
<polyline points="313.6,161.0 317.0,160.6 321.0,164.0 325.0,167.6 329.0,170.0 333.0,166.0 338.0,159.6 342.0,156.6 345.6,157.0 349.0,160.0 354.0,163.6 360.0,166.4 364.0,166.0 367.0,164.0 370.0,165.0 375.0,168.0 379.0,170.0 383.0,168.6 388.0,166.0 392.0,166.0 396.0,164.6 400.0,166.0 405.8,170.4 413.8,167.0 422.0,170.5 428.0,168.0 435.0,167.0 440.0,162.6 446.0,164.0 453.0,167.6 458.0,169.0 466.0,164.4 471.0,154.0 475.0,147.8 478.4,146.5 483.0,150.4 489.0,159.0 495.0,166.0 499.0,166.3 505.0,162.0 511.0,159.3" fill="none" stroke="#111" stroke-width="1.3" stroke-linejoin="round" stroke-linecap="round" />
</g>
<text x="364.4" y="160.0" font-size="10.5" fill="#111" text-anchor="start" font-weight="normal" font-family='"Liberation Sans", Arial, Helvetica, sans-serif' stroke="#111" stroke-width="0.25">0 ns</text>
<text x="364.4" y="176.8" font-size="10.5" fill="#3f57b0" text-anchor="start" font-weight="normal" font-family='"Liberation Sans", Arial, Helvetica, sans-serif' stroke="#3f57b0" stroke-width="0.25">1 ns</text>
<text x="364.4" y="194.8" font-size="10.5" fill="#7ab648" text-anchor="start" font-weight="normal" font-family='"Liberation Sans", Arial, Helvetica, sans-serif' stroke="#7ab648" stroke-width="0.25">5 ns</text>
<text x="364.8" y="213.2" font-size="10.5" fill="#f0a52e" text-anchor="start" font-weight="normal" font-family='"Liberation Sans", Arial, Helvetica, sans-serif' stroke="#f0a52e" stroke-width="0.25">9 ns</text>
<text x="362.4" y="231.8" font-size="10.5" fill="#d6203a" text-anchor="start" font-weight="normal" font-family='"Liberation Sans", Arial, Helvetica, sans-serif' stroke="#d6203a" stroke-width="0.25">14 ns</text>
<text x="363.4" y="267.8" font-size="10.5" fill="#474a94" text-anchor="start" font-weight="normal" font-family='"Liberation Sans", Arial, Helvetica, sans-serif' stroke="#474a94" stroke-width="0.25">19 ns</text>
<rect x="41.1" y="403.9" width="206.2" height="198.0" fill="none" stroke="#444" stroke-width="1"/>
<path d="M41.1 600.9h-5.6M41.1 586.2h-3.2M41.1 577.6h-3.2M41.1 571.5h-3.2M41.1 566.8h-3.2M41.1 562.9h-3.2M41.1 559.7h-3.2M41.1 556.8h-3.2M41.1 554.3h-3.2M41.1 552.1h-5.6M41.1 537.4h-3.2M41.1 528.8h-3.2M41.1 522.7h-3.2M41.1 518.0h-3.2M41.1 514.1h-3.2M41.1 510.9h-3.2M41.1 508.0h-3.2M41.1 505.5h-3.2M41.1 503.3h-5.6M41.1 488.6h-3.2M41.1 480.0h-3.2M41.1 473.9h-3.2M41.1 469.2h-3.2M41.1 465.3h-3.2M41.1 462.1h-3.2M41.1 459.2h-3.2M41.1 456.7h-3.2M41.1 454.5h-5.6M41.1 439.8h-3.2M41.1 431.2h-3.2M41.1 425.1h-3.2M41.1 420.4h-3.2M41.1 416.5h-3.2M41.1 413.3h-3.2M41.1 410.4h-3.2M41.1 407.9h-3.2M41.1 405.7h-5.6" stroke="#444" stroke-width="0.9" fill="none"/>
<text x="33.6" y="604.9" font-size="10.3" fill="#111" text-anchor="end" font-family='"Liberation Sans", Arial, Helvetica, sans-serif'>10<tspan font-size="5.6" dy="-4.9">0</tspan></text>
<text x="33.6" y="555.7" font-size="10.3" fill="#111" text-anchor="end" font-family='"Liberation Sans", Arial, Helvetica, sans-serif'>10<tspan font-size="5.6" dy="-4.9">1</tspan></text>
<text x="33.6" y="506.5" font-size="10.3" fill="#111" text-anchor="end" font-family='"Liberation Sans", Arial, Helvetica, sans-serif'>10<tspan font-size="5.6" dy="-4.9">2</tspan></text>
<text x="33.6" y="457.2" font-size="10.3" fill="#111" text-anchor="end" font-family='"Liberation Sans", Arial, Helvetica, sans-serif'>10<tspan font-size="5.6" dy="-4.9">3</tspan></text>
<text x="33.6" y="408.0" font-size="10.3" fill="#111" text-anchor="end" font-family='"Liberation Sans", Arial, Helvetica, sans-serif'>10<tspan font-size="5.6" dy="-4.9">4</tspan></text>
<text transform="translate(10.6 498.1) rotate(-90)" font-size="13.1" fill="#111" text-anchor="middle" font-family='"Liberation Sans", Arial, Helvetica, sans-serif'>Photon counts, normalized</text>
<text x="57.9" y="616.9" font-size="10.3" fill="#111" text-anchor="middle" font-weight="normal" font-family='"Liberation Sans", Arial, Helvetica, sans-serif' >0</text>
<text x="89.3" y="616.9" font-size="10.3" fill="#111" text-anchor="middle" font-weight="normal" font-family='"Liberation Sans", Arial, Helvetica, sans-serif' >1</text>
<text x="120.7" y="616.9" font-size="10.3" fill="#111" text-anchor="middle" font-weight="normal" font-family='"Liberation Sans", Arial, Helvetica, sans-serif' >2</text>
<text x="152.0" y="616.9" font-size="10.3" fill="#111" text-anchor="middle" font-weight="normal" font-family='"Liberation Sans", Arial, Helvetica, sans-serif' >3</text>
<text x="183.4" y="616.9" font-size="10.3" fill="#111" text-anchor="middle" font-weight="normal" font-family='"Liberation Sans", Arial, Helvetica, sans-serif' >4</text>
<text x="214.8" y="616.9" font-size="10.3" fill="#111" text-anchor="middle" font-weight="normal" font-family='"Liberation Sans", Arial, Helvetica, sans-serif' >5</text>
<text x="246.2" y="616.9" font-size="10.3" fill="#111" text-anchor="middle" font-weight="normal" font-family='"Liberation Sans", Arial, Helvetica, sans-serif' >6</text>
<path d="M57.9 601.9v4.6M89.3 601.9v4.6M120.7 601.9v4.6M152.0 601.9v4.6M183.4 601.9v4.6M214.8 601.9v4.6M246.2 601.9v4.6" stroke="#444" stroke-width="0.9" fill="none"/>
<text x="146.6" y="630.5" font-size="12.8" fill="#111" text-anchor="middle" font-weight="normal" font-family='"Liberation Sans", Arial, Helvetica, sans-serif' >Time (ns)</text>
<g clip-path="url(#cE)">
<polyline points="46.2,604.0 46.7,570.0 47.4,530.0 48.2,498.0 49.5,475.0 50.9,458.0 52.3,436.0 53.5,422.0 54.7,415.0 56.1,409.2 57.5,406.3 59.0,405.2 60.8,411.2 63.6,415.8 67.1,421.0 70.6,425.6 74.0,430.8 76.9,434.8 79.8,438.3 83.3,444.6 86.7,450.4 90.2,456.2 93.1,460.8 95.8,463.8 100.0,468.5 106.0,478.0 112.0,486.5 118.0,494.0 122.0,504.0 128.0,510.0 132.0,516.0 140.0,524.0 146.0,531.0 152.0,538.0 156.0,540.0 163.0,545.5 165.4,557.0 170.0,573.0 174.2,546.7 178.0,577.8 183.8,591.7 187.3,591.7 189.6,573.0 194.2,584.8 197.7,591.7 201.8,567.5 202.3,604.9 226.0,604.9 228.8,591.7 231.0,580.0 234.6,591.7 239.0,591.7 240.5,604.9 247.0,604.9" fill="none" stroke="#a2cd5a" stroke-width="1.2" stroke-linejoin="round" stroke-linecap="round" />
<polyline points="45.7,604.0 46.2,570.0 46.9,530.0 47.7,498.0 49.0,475.0 50.4,458.0 51.8,436.0 53.0,422.0 54.2,415.0 55.6,409.2 57.0,406.3 58.5,405.2 61.3,410.0 64.6,414.8 68.5,419.0 71.9,423.0 75.4,427.7 78.8,431.7 81.0,434.0 84.6,438.0 89.2,443.8 93.8,448.5 98.5,453.0 103.0,457.5 110.0,464.0 120.0,472.0 130.0,480.0 140.0,486.0 150.0,492.0 160.0,498.0 168.0,505.0 172.3,507.5 176.0,505.5 180.4,506.3 186.0,513.0 193.0,515.5 200.0,519.0 207.0,524.8 213.8,524.8 218.5,532.8 227.7,532.8 232.3,536.3 237.0,539.8 242.7,538.6 246.8,547.8" fill="none" stroke="#86bde8" stroke-width="1.25" stroke-linejoin="round" stroke-linecap="round" />
<polyline points="48.6,604.9 48.6,478.0 49.8,458.0 51.4,436.0 52.6,422.0 53.8,415.0 55.2,409.2 56.6,406.3 58.1,405.2 60.9,410.8 63.7,415.4 67.2,420.6 70.7,425.2 74.1,430.4 77.0,434.4 79.9,437.9 83.4,444.2 86.8,450.0 90.3,455.8 93.2,460.4 95.9,463.4 100.0,468.0 102.0,470.0 105.0,482.0 108.0,473.0 111.0,484.0 120.0,498.0 126.0,510.0 130.0,514.0 133.0,509.0 137.0,524.0 140.0,520.0 145.0,528.0 149.0,539.0 152.0,522.0 155.0,538.0 158.0,545.0 161.0,540.0 164.2,546.0 164.3,604.9 170.1,604.9 170.2,573.0 170.4,604.9 176.7,604.9 176.9,550.0 177.1,604.9 182.9,604.9 183.1,556.0 183.3,604.9 193.1,604.9 193.3,548.0 193.5,604.9 204.9,604.9 205.0,568.6 205.2,604.9 211.4,604.9 211.5,568.6 211.7,604.9 224.1,604.9 224.2,568.6 224.4,604.9 231.0,604.9 231.2,568.6 231.4,604.9 236.9,604.9 237.0,580.0 237.2,604.9 247.0,604.9" fill="none" stroke="#c9b0e6" stroke-width="0.95" stroke-linejoin="round" stroke-linecap="round" />
<polyline points="45.5,604.0 46.0,570.0 46.7,530.0 47.5,498.0 48.8,475.0 50.2,458.0 51.6,436.0 52.8,422.0 54.0,415.0 55.4,409.2 56.8,406.3 58.3,405.2 61.0,410.4 63.8,415.0 67.3,420.2 70.8,424.8 74.2,430.0 77.1,434.0 80.0,437.5 83.5,443.8 86.9,449.6 90.4,455.4 93.3,460.0 96.0,463.0 100.0,466.5 106.0,476.0 112.0,484.0 115.0,488.0 120.0,487.0 123.0,498.0 130.0,500.0 135.0,505.0 140.0,512.0 144.6,520.0 149.2,527.0 151.5,538.6 155.0,523.6 158.5,541.0 162.0,535.0 167.7,542.0 174.6,532.8 177.0,542.0 180.4,539.8 183.8,573.0 187.3,559.4 194.2,559.4 197.2,573.0 199.5,559.4 199.7,604.9 209.0,604.9 212.0,546.7 217.3,573.0 217.5,604.9 233.3,604.9 233.5,559.4 237.0,573.0 239.7,573.0 243.0,559.4 243.2,604.9 246.0,604.9 246.6,552.5" fill="none" stroke="#a3152f" stroke-width="1.2" stroke-linejoin="round" stroke-linecap="round" />
<polyline points="45.3,604.0 45.8,570.0 46.5,530.0 47.3,498.0 48.6,475.0 50.0,458.0 51.4,436.0 52.6,422.0 53.8,415.0 55.2,409.2 56.6,406.3 58.1,405.2 61.5,409.8 65.0,414.4 68.5,417.3 71.9,420.8 75.4,426.0 78.3,430.6 80.6,432.3 83.5,433.5 86.9,436.9 90.4,441.5 93.8,444.4 98.5,449.6 103.0,454.2 106.5,457.5 112.0,462.0 120.0,470.0 126.0,472.0 130.0,477.0 133.0,475.0 138.0,481.0 143.0,487.0 146.0,491.6 149.0,488.0 154.0,493.0 160.0,499.0 166.0,506.0 171.0,513.0 177.0,507.5 180.0,511.0 183.8,515.5 187.3,512.0 193.0,520.0 200.0,524.8 205.8,545.5 209.2,528.2 211.5,544.4 215.0,526.0 218.5,550.0 220.8,536.3 226.5,545.5 233.5,534.0 237.0,568.6 240.4,580.0 243.8,561.7 246.8,545.5" fill="none" stroke="#b8702f" stroke-width="1.1" stroke-linejoin="round" stroke-linecap="round" />
</g>
<path d="M177.4 424.3H191.5" stroke="#a2cd5a" stroke-width="1.2"/>
<text x="194.6" y="427.3" font-size="8.6" fill="#111" text-anchor="start" font-weight="normal" font-family='"Liberation Sans", Arial, Helvetica, sans-serif' >1 μm</text>
<path d="M177.4 434.7H191.5" stroke="#86bde8" stroke-width="1.2"/>
<text x="194.6" y="437.7" font-size="8.6" fill="#111" text-anchor="start" font-weight="normal" font-family='"Liberation Sans", Arial, Helvetica, sans-serif' >8 μm</text>
<path d="M177.4 445.0H191.5" stroke="#c9b0e6" stroke-width="1.2"/>
<text x="194.6" y="448.0" font-size="8.6" fill="#111" text-anchor="start" font-weight="normal" font-family='"Liberation Sans", Arial, Helvetica, sans-serif' >22 μm</text>
<path d="M177.4 455.4H191.5" stroke="#a3152f" stroke-width="1.2"/>
<text x="194.6" y="458.4" font-size="8.6" fill="#111" text-anchor="start" font-weight="normal" font-family='"Liberation Sans", Arial, Helvetica, sans-serif' >37 μm</text>
<path d="M177.4 465.7H191.5" stroke="#b8702f" stroke-width="1.2"/>
<text x="194.6" y="468.7" font-size="8.6" fill="#111" text-anchor="start" font-weight="normal" font-family='"Liberation Sans", Arial, Helvetica, sans-serif' >39 μm</text>
<rect x="310.9" y="403.9" width="206.1" height="198.0" fill="none" stroke="#444" stroke-width="1"/>
<path d="M310.9 600.9h-5.6M310.9 586.2h-3.2M310.9 577.6h-3.2M310.9 571.5h-3.2M310.9 566.8h-3.2M310.9 562.9h-3.2M310.9 559.7h-3.2M310.9 556.8h-3.2M310.9 554.3h-3.2M310.9 552.1h-5.6M310.9 537.4h-3.2M310.9 528.8h-3.2M310.9 522.7h-3.2M310.9 518.0h-3.2M310.9 514.1h-3.2M310.9 510.9h-3.2M310.9 508.0h-3.2M310.9 505.5h-3.2M310.9 503.3h-5.6M310.9 488.6h-3.2M310.9 480.0h-3.2M310.9 473.9h-3.2M310.9 469.2h-3.2M310.9 465.3h-3.2M310.9 462.1h-3.2M310.9 459.2h-3.2M310.9 456.7h-3.2M310.9 454.5h-5.6M310.9 439.8h-3.2M310.9 431.2h-3.2M310.9 425.1h-3.2M310.9 420.4h-3.2M310.9 416.5h-3.2M310.9 413.3h-3.2M310.9 410.4h-3.2M310.9 407.9h-3.2M310.9 405.7h-5.6" stroke="#444" stroke-width="0.9" fill="none"/>
<text x="303.4" y="604.9" font-size="10.3" fill="#111" text-anchor="end" font-family='"Liberation Sans", Arial, Helvetica, sans-serif'>10<tspan font-size="5.6" dy="-4.9">0</tspan></text>
<text x="303.4" y="555.7" font-size="10.3" fill="#111" text-anchor="end" font-family='"Liberation Sans", Arial, Helvetica, sans-serif'>10<tspan font-size="5.6" dy="-4.9">1</tspan></text>
<text x="303.4" y="506.5" font-size="10.3" fill="#111" text-anchor="end" font-family='"Liberation Sans", Arial, Helvetica, sans-serif'>10<tspan font-size="5.6" dy="-4.9">2</tspan></text>
<text x="303.4" y="457.2" font-size="10.3" fill="#111" text-anchor="end" font-family='"Liberation Sans", Arial, Helvetica, sans-serif'>10<tspan font-size="5.6" dy="-4.9">3</tspan></text>
<text x="303.4" y="408.0" font-size="10.3" fill="#111" text-anchor="end" font-family='"Liberation Sans", Arial, Helvetica, sans-serif'>10<tspan font-size="5.6" dy="-4.9">4</tspan></text>
<text transform="translate(279.5 501.9) rotate(-90)" font-size="13.1" fill="#111" text-anchor="middle" font-family='"Liberation Sans", Arial, Helvetica, sans-serif'>Photon counts, normalized</text>
<text x="318.8" y="616.9" font-size="10.3" fill="#111" text-anchor="middle" font-weight="normal" font-family='"Liberation Sans", Arial, Helvetica, sans-serif' >0</text>
<text x="371.2" y="616.9" font-size="10.3" fill="#111" text-anchor="middle" font-weight="normal" font-family='"Liberation Sans", Arial, Helvetica, sans-serif' >20</text>
<text x="423.6" y="616.9" font-size="10.3" fill="#111" text-anchor="middle" font-weight="normal" font-family='"Liberation Sans", Arial, Helvetica, sans-serif' >40</text>
<text x="476.0" y="616.9" font-size="10.3" fill="#111" text-anchor="middle" font-weight="normal" font-family='"Liberation Sans", Arial, Helvetica, sans-serif' >60</text>
<path d="M318.8 601.9v4.6M371.2 601.9v4.6M423.6 601.9v4.6M476.0 601.9v4.6" stroke="#444" stroke-width="0.9" fill="none"/>
<text x="419.1" y="630.5" font-size="12.8" fill="#111" text-anchor="middle" font-weight="normal" font-family='"Liberation Sans", Arial, Helvetica, sans-serif' >Time (ns)</text>
<g clip-path="url(#cF)">
<polyline points="318.5,606.0 318.7,500.0 319.0,420.0 319.3,407.5 319.6,410.4 319.8,413.5 320.1,416.6 320.3,420.2 320.6,420.6 320.8,422.5 321.1,423.0 321.3,424.3 321.6,425.2 321.8,426.7 322.1,426.9 322.3,428.2 322.6,428.8 322.8,429.8 323.1,429.8 323.3,430.7 323.6,431.1 323.8,432.0 324.1,432.8 324.3,432.9 324.6,434.2 324.8,434.8 325.1,435.3 325.3,436.0 325.6,436.0 325.8,436.7 326.1,437.0 326.3,437.7 326.6,438.5 326.8,438.6 327.1,439.2 327.3,439.7 327.6,440.1 327.8,440.7 328.1,441.5 328.3,441.6 328.6,442.6 328.8,443.6 329.1,443.8 329.3,444.0 329.6,444.3 329.8,444.9 330.1,446.3 330.3,446.2 330.6,446.5 330.8,447.3 331.1,448.6 331.3,448.3 331.6,449.0 331.8,449.4 332.1,449.6 332.3,449.7 332.6,450.5 332.8,451.0 333.1,451.9 333.3,452.5 333.6,453.0 333.8,453.2 334.1,453.9 334.3,453.6 334.6,455.0 334.8,455.1 335.1,455.2 335.3,456.1 335.6,456.3 335.8,457.4 336.1,458.0 336.3,458.8 336.6,457.5 336.8,457.9 337.1,458.9 337.3,459.7 337.6,460.6 337.8,460.7 338.1,459.9 338.3,461.3 338.6,462.4 338.8,462.6 339.1,463.3 339.3,463.2 339.6,463.6 339.8,464.2 340.1,464.8 340.3,465.1 340.6,465.4 340.8,465.3 341.1,466.4 341.3,466.6 341.6,467.7 341.8,468.2 342.1,467.9 342.3,467.9 342.6,468.2 342.8,469.3 343.1,469.5 343.3,469.6 343.6,470.3 343.8,470.2 344.1,471.5 344.3,471.1 344.6,472.7 344.8,472.5 345.1,473.1 345.3,472.3 345.6,473.6 345.8,474.4 346.1,473.6 346.3,474.5 346.6,475.1 346.8,474.4 347.1,476.2 347.3,477.1 347.6,476.2 347.8,477.6 348.1,476.7 348.3,478.2 348.6,477.3 348.8,480.1 349.1,480.0 349.3,480.0 349.6,479.8 349.8,482.1 350.1,483.2 350.3,480.2 350.6,483.5 350.8,484.3 351.1,483.6 351.3,482.6 351.6,485.0 351.8,484.5 352.1,484.5 352.3,484.4 352.6,486.6 352.8,487.3 353.1,486.4 353.3,488.0 353.6,486.8 353.8,489.3 354.1,489.0 354.3,489.2 354.6,489.8 354.8,491.3 355.1,491.7 355.3,491.9 355.6,492.0 355.8,492.4 356.1,493.5 356.3,493.5 356.6,494.5 356.8,493.8 357.1,491.9 357.3,496.4 357.6,498.4 357.8,496.7 358.1,496.5 358.3,496.9 358.6,497.4 358.8,498.1 359.1,497.0 359.3,498.2 359.6,497.9 359.8,500.0 360.1,499.6 360.3,501.0 360.6,500.4 360.8,502.4 361.1,501.6 361.3,504.9 361.6,499.3 361.8,501.4 362.1,504.1 362.3,506.5 362.6,503.0 362.8,503.8 363.1,503.7 363.3,506.5 363.6,504.3 363.8,506.2 364.1,505.0 364.3,503.8 364.6,506.7 364.8,507.3 365.1,509.0 365.3,507.0 365.6,506.5 365.8,508.8 366.1,508.6 366.3,509.0 366.6,508.8 366.8,511.3 367.1,510.2 367.3,513.3 367.6,512.2 367.8,511.8 368.1,508.0 368.3,512.4 368.6,512.4 368.8,513.5 369.1,514.2 369.3,511.8 369.6,514.4 369.8,512.1 370.1,517.1 370.3,511.1 370.6,510.6 370.8,511.1 371.1,512.8 371.3,512.6 371.6,519.0 371.8,514.8 372.1,513.0 372.3,518.2 372.6,515.1 372.8,514.0 373.1,518.6 373.3,518.4 373.6,516.5 373.8,520.6 374.1,518.2 374.3,521.7 374.6,519.6 374.8,522.2 375.1,519.3 375.3,516.7 375.6,524.7 375.8,518.7 376.1,519.8 376.3,518.9 376.6,520.3 376.8,521.6 377.1,521.8 377.3,523.2 377.6,526.1 377.8,521.9 378.1,519.6 378.3,520.0 378.6,521.5 378.8,519.3 379.1,525.5 379.3,522.6 379.6,523.3 379.8,524.3 380.1,521.1 380.3,522.7 380.6,526.7 380.8,526.9 381.1,524.4 381.3,530.4 381.6,522.7 381.8,525.4 382.1,526.0 382.3,520.8 382.6,532.1 382.8,528.3 383.1,524.8 383.3,533.3 383.6,529.6 383.8,529.5 384.1,526.9 384.3,529.1 384.6,524.8 384.8,531.5 385.1,528.5 385.3,530.2 385.6,533.4 385.8,531.1 386.1,531.3 386.3,531.6 386.6,528.9 386.8,533.7 387.1,536.1 387.3,534.0 387.6,534.7 387.8,529.7 388.1,529.9 388.3,528.4 388.6,536.7 388.8,532.4 389.1,537.6 389.3,531.2 389.6,532.4 389.8,534.3 390.1,537.0 390.3,534.6 390.6,535.2 390.8,534.8 391.1,535.5 391.3,531.6 391.6,535.7 391.8,535.0 392.1,535.6 392.3,537.6 392.6,534.0 392.8,536.1 393.1,535.6 393.3,538.2 393.6,539.6 393.8,534.0 394.1,539.4 394.3,544.6 394.6,532.9 394.8,535.2 395.1,535.2 395.3,537.5 395.6,544.3 395.8,538.9 396.1,536.6 396.3,541.4 396.6,537.4 396.8,543.6 397.1,541.0 397.3,545.0 397.6,537.9 397.8,548.8 398.1,543.6 398.3,543.2 398.6,540.8 398.8,538.5 399.1,538.2 399.3,541.0 399.6,538.8 399.8,542.9 400.1,539.0 400.3,544.6 400.6,546.0 400.8,539.9 401.1,547.3 401.3,542.0 401.6,547.6 401.8,545.0 402.1,547.8 402.3,539.8 402.6,543.4 402.8,549.7 403.1,541.8 403.3,536.3 403.6,536.8 403.8,535.6 404.1,536.4 404.3,543.4 404.6,550.4 404.8,543.6 405.1,546.9 405.3,545.3 405.6,546.0 405.8,545.4 406.1,545.6 406.3,548.4 406.6,541.8 406.8,551.1 407.1,550.9 407.3,546.4 407.6,550.8 407.8,544.5 408.1,545.3 408.3,548.4 408.6,547.1 408.8,546.1 409.1,545.3 409.3,545.9 409.6,552.5 409.8,540.1 410.1,550.3 410.3,547.8 410.6,552.2 410.8,551.4 411.1,539.1 411.3,552.0 411.6,551.0 411.8,549.8 412.1,547.7 412.3,553.8 412.6,548.3 412.8,558.6 413.1,553.0 413.3,560.3 413.6,547.1 413.8,542.7 414.1,554.3 414.3,555.0 414.6,551.4 414.8,544.2 415.1,549.4 415.3,554.6 415.6,550.9 415.8,551.4 416.1,551.2 416.3,547.8 416.6,549.8 416.8,545.7 417.1,561.1 417.3,550.5 417.6,555.2 417.8,548.1 418.1,557.0 418.3,544.1 418.6,557.9 418.8,553.3 419.1,564.0 419.3,547.3 419.6,554.3 419.8,555.8 420.1,560.3 420.3,552.2 420.6,554.8 420.8,543.8 421.1,550.5 421.3,557.1 421.6,560.5 421.8,553.6 422.1,565.6 422.3,564.3 422.6,555.1 422.8,543.7 423.1,546.5 423.3,551.8 423.6,561.7 423.8,557.7 424.1,545.2 424.3,555.1 424.6,564.9 424.8,554.6 425.1,552.7 425.3,567.7 425.6,557.2 425.8,554.5 426.1,559.0 426.3,557.4 426.6,555.1 426.8,564.1 427.1,563.7 427.3,562.4 427.6,557.4 427.8,564.4 428.1,558.0 428.3,560.9 428.6,564.2 428.8,563.1 429.1,568.7 429.3,561.4 429.6,549.6 429.8,552.7 430.1,566.9 430.3,557.6 430.6,561.8 430.8,554.9 431.1,565.5 431.3,557.8 431.6,568.5 431.8,557.2 432.1,566.8 432.3,564.4 432.6,556.5 432.8,567.2 433.1,555.6 433.3,556.2 433.6,565.4 433.8,557.6 434.1,557.9 434.3,559.5 434.6,555.8 434.8,568.1 435.1,565.6 435.3,561.7 435.6,561.6 435.8,565.1 436.1,573.2 436.3,568.0 436.6,559.7 436.8,567.7 437.1,562.4 437.3,562.1 437.6,575.0 437.8,561.0 438.1,560.8 438.3,551.7 438.6,555.2 438.8,567.1 439.1,560.0 439.3,567.8 439.6,557.6 439.8,559.9 440.1,569.3 440.3,574.6 440.6,569.1 440.8,573.2 441.1,576.7 441.3,572.6 441.6,559.9 441.8,565.4 442.1,570.4 442.3,563.6 442.6,569.5 442.8,556.1 443.1,561.3 443.3,570.6 443.6,552.0 443.8,559.8 444.1,567.3 444.3,555.8 444.6,568.2 444.8,562.4 445.1,566.1 445.3,566.4 445.6,569.7 445.8,564.6 446.1,569.3 446.3,564.6 446.6,572.9 446.8,581.0 447.1,570.7 447.3,570.6 447.6,561.5 447.8,574.6 448.1,564.6 448.3,564.4 448.6,574.1 448.8,571.7 449.1,578.3 449.3,580.8 449.6,567.1 449.8,571.9 450.1,583.5 450.3,578.1 450.6,576.5 450.8,580.8 451.1,567.5 451.3,576.4 451.6,581.9 451.8,583.6 452.1,566.8 452.3,570.8 452.6,575.4 452.8,570.8 453.1,570.3 453.3,578.0 453.6,570.8 453.8,561.0 454.1,576.2 454.3,570.8 454.6,568.8 454.8,563.1 455.1,581.3 455.3,558.8 455.6,562.7 455.8,572.8 456.1,583.5 456.3,584.2 456.6,567.1 456.8,574.1 457.1,564.9 457.3,582.7 457.6,565.5 457.8,574.9 458.1,583.3 458.3,574.7 458.6,586.7 458.8,570.5 459.1,579.3 459.3,582.8 459.6,576.0 459.8,586.9 460.1,581.2 460.3,566.0 460.6,593.7 460.8,582.3 461.1,578.6 461.3,568.2 461.6,578.6 461.8,574.9 462.1,582.7 462.3,580.9 462.6,591.3 462.8,579.4 463.1,582.1 463.3,581.2 463.6,577.6 463.8,577.5 464.1,586.6 464.3,584.4 464.6,574.6 464.8,571.3 465.1,578.7 465.3,587.4 465.6,579.1 465.8,591.6 466.1,574.1 466.3,580.6 466.6,563.6 466.8,575.6 467.1,577.7 467.3,583.5 467.6,592.0 467.8,580.3 468.1,590.3 468.3,584.9 468.6,587.2 468.8,577.1 469.1,590.2 469.3,573.0 469.6,584.1 469.8,574.0 470.1,577.2 470.3,570.6 470.6,577.3 470.8,583.5 471.1,580.6 471.3,571.8 471.6,591.6 471.8,583.7 472.1,588.5 472.3,587.0 472.6,576.9 472.8,568.1 473.1,575.4 473.3,590.4 473.6,574.5 473.8,587.7 474.1,577.8 474.3,584.9 474.6,569.5 474.8,590.5 475.1,582.1 475.3,588.7 475.6,583.9 475.8,588.2 476.1,582.0 476.3,588.0 476.6,572.3 476.8,575.4 477.1,588.1 477.3,582.9 477.6,581.6 477.8,582.0 478.1,586.9 478.3,579.3 478.6,587.1 478.8,577.2 479.1,580.9 479.3,590.7 479.6,591.4 479.8,576.3 480.1,589.9 480.3,576.8 480.6,589.3 480.8,571.0 481.1,576.5 481.3,580.9 481.6,583.3 481.8,594.6 482.1,591.0 482.3,595.8 482.6,593.3 482.8,582.9 483.1,583.1 483.3,592.6 483.6,585.4 483.8,584.1 484.1,576.0 484.3,584.7 484.6,569.4 484.8,582.4 485.1,578.8 485.3,590.6 485.6,582.5 485.8,583.6 486.1,595.4 486.3,578.7 486.6,588.3 486.8,572.9 487.1,586.9 487.3,589.2 487.6,592.5 487.8,580.2 488.1,588.8 488.3,588.9 488.6,586.6 488.8,587.9 489.1,590.1 489.3,589.7 489.6,580.0 489.8,578.7 490.1,603.2 490.3,600.6 490.6,577.5 490.8,590.5 491.1,591.8 491.3,592.7 491.6,588.5 491.8,581.1 492.1,586.4 492.3,584.3 492.6,588.8 492.8,586.0 493.1,587.0 493.3,595.2 493.6,596.7 493.8,579.9 494.1,585.0 494.3,582.8 494.6,596.9 494.8,588.0 495.1,598.6 495.3,585.2 495.6,588.8 495.8,579.3 496.1,597.9 496.3,586.3 496.6,578.5 496.8,584.8 497.1,573.0 497.3,588.9 497.6,590.0 497.8,591.3 498.1,599.8 498.3,587.3 498.6,595.1 498.8,591.7 499.1,588.2 499.3,575.1 499.6,596.4 499.8,586.3 500.1,590.0 500.3,581.0 500.6,592.0 500.8,590.8 501.1,590.4 501.3,589.3 501.6,597.6 501.8,597.1 502.1,595.5 502.3,606.6 502.6,586.4 502.8,588.0 503.1,583.6 503.3,593.8 503.6,586.0 503.8,574.8 504.1,582.5 504.3,591.5 504.6,598.2 504.8,580.3 505.1,587.0 505.3,590.3 505.6,586.3 505.8,595.2 506.1,591.5 506.3,593.8 506.6,586.6 506.8,602.5 507.1,591.8 507.3,600.9 507.6,588.8 507.8,596.1 508.1,587.3 508.3,585.5 508.6,587.3 508.8,591.9 509.1,590.8 509.3,603.2 509.6,584.4 509.8,584.9 510.1,604.5 510.3,596.9 510.6,579.6 510.8,596.3 511.1,594.5 511.3,577.9 511.6,590.4 511.8,593.0 512.0,598.3 512.3,599.9 512.5,594.0 512.8,600.6 513.0,592.4 513.3,587.5 513.5,587.0 513.8,597.4 514.0,580.0 514.3,598.5 514.5,586.1 514.8,591.4 515.0,597.5 515.3,602.6 515.5,580.5 515.8,588.5 516.0,594.6 516.3,590.1 516.5,600.4 516.8,579.8" fill="none" stroke="#9c1a30" stroke-width="1.15" stroke-linejoin="round" stroke-linecap="round" />
<polyline points="318.5,606.0 318.7,500.0 319.0,420.0 319.3,406.4 319.6,407.5 319.8,408.2 320.1,409.9 320.3,410.4 320.6,411.7 320.8,413.0 321.1,413.8 321.3,415.2 321.6,416.5 321.8,418.0 322.1,419.7 322.3,420.2 322.6,420.5 322.8,421.4 323.1,421.6 323.3,422.3 323.6,423.1 323.8,423.1 324.1,423.8 324.3,424.1 324.6,424.8 324.8,425.4 325.1,425.7 325.3,426.3 325.6,426.8 325.8,427.2 326.1,427.6 326.3,428.0 326.6,428.8 326.8,429.3 327.1,430.5 327.3,429.7 327.6,430.9 327.8,431.5 328.1,432.2 328.3,432.5 328.6,432.6 328.8,433.3 329.1,434.0 329.3,434.2 329.6,435.1 329.8,434.8 330.1,436.4 330.3,436.8 330.6,436.7 330.8,437.5 331.1,437.8 331.3,438.0 331.6,438.8 331.8,439.5 332.1,439.4 332.3,439.8 332.6,440.3 332.8,440.9 333.1,441.6 333.3,441.3 333.6,442.1 333.8,442.4 334.1,442.1 334.3,443.0 334.6,443.5 334.8,443.9 335.1,444.5 335.3,444.0 335.6,445.1 335.8,445.3 336.1,445.4 336.3,446.5 336.6,447.0 336.8,446.9 337.1,447.9 337.3,447.8 337.6,448.4 337.8,448.3 338.1,449.8 338.3,448.6 338.6,449.9 338.8,450.6 339.1,449.8 339.3,451.0 339.6,451.4 339.8,452.1 340.1,452.7 340.3,452.3 340.6,452.2 340.8,453.8 341.1,454.1 341.3,453.6 341.6,454.4 341.8,454.7 342.1,455.2 342.3,455.3 342.6,456.3 342.8,455.1 343.1,456.8 343.3,456.8 343.6,456.9 343.8,457.9 344.1,456.5 344.3,458.6 344.6,458.6 344.8,458.1 345.1,459.3 345.3,459.3 345.6,461.0 345.8,461.1 346.1,460.7 346.3,460.4 346.6,460.8 346.8,461.3 347.1,461.5 347.3,461.6 347.6,462.1 347.8,462.6 348.1,462.8 348.3,463.0 348.6,463.2 348.8,465.5 349.1,463.5 349.3,464.1 349.6,465.3 349.8,465.2 350.1,466.0 350.3,466.5 350.6,467.2 350.8,467.2 351.1,466.4 351.3,468.1 351.6,466.5 351.8,467.9 352.1,468.0 352.3,467.9 352.6,469.4 352.8,469.2 353.1,470.3 353.3,468.9 353.6,470.8 353.8,470.9 354.1,471.0 354.3,470.2 354.6,471.4 354.8,470.7 355.1,470.5 355.3,473.9 355.6,473.2 355.8,474.0 356.1,472.6 356.3,473.7 356.6,473.9 356.8,474.1 357.1,473.8 357.3,473.9 357.6,472.7 357.8,475.0 358.1,475.1 358.3,475.8 358.6,475.0 358.8,476.8 359.1,475.3 359.3,474.9 359.6,477.0 359.8,476.1 360.1,475.8 360.3,477.2 360.6,478.0 360.8,477.9 361.1,478.4 361.3,480.2 361.6,479.2 361.8,480.1 362.1,477.4 362.3,479.7 362.6,480.4 362.8,479.7 363.1,479.5 363.3,480.9 363.6,480.6 363.8,480.6 364.1,482.5 364.3,483.0 364.6,482.3 364.8,481.9 365.1,483.1 365.3,483.7 365.6,483.8 365.8,482.1 366.1,483.5 366.3,484.4 366.6,485.0 366.8,485.6 367.1,485.7 367.3,484.1 367.6,484.8 367.8,484.6 368.1,487.9 368.3,486.6 368.6,487.3 368.8,488.1 369.1,486.9 369.3,486.4 369.6,487.4 369.8,487.9 370.1,489.9 370.3,489.5 370.6,487.7 370.8,489.9 371.1,490.2 371.3,488.6 371.6,489.9 371.8,488.2 372.1,490.9 372.3,490.4 372.6,489.5 372.8,490.5 373.1,491.9 373.3,491.2 373.6,492.5 373.8,493.1 374.1,491.7 374.3,492.6 374.6,495.8 374.8,493.6 375.1,492.8 375.3,494.1 375.6,492.7 375.8,496.0 376.1,495.3 376.3,496.5 376.6,496.5 376.8,496.1 377.1,497.2 377.3,496.4 377.6,495.6 377.8,495.4 378.1,496.4 378.3,494.3 378.6,499.9 378.8,495.5 379.1,497.9 379.3,496.5 379.6,495.8 379.8,498.7 380.1,498.6 380.3,499.1 380.6,500.3 380.8,498.9 381.1,500.6 381.3,501.0 381.6,500.1 381.8,500.4 382.1,501.8 382.3,501.4 382.6,501.8 382.8,498.5 383.1,502.1 383.3,502.9 383.6,502.4 383.8,503.3 384.1,505.9 384.3,503.4 384.6,504.6 384.8,502.5 385.1,502.7 385.3,503.6 385.6,503.0 385.8,504.8 386.1,503.6 386.3,505.0 386.6,503.3 386.8,503.2 387.1,505.0 387.3,504.6 387.6,505.5 387.8,505.8 388.1,506.5 388.3,509.0 388.6,509.7 388.8,508.8 389.1,507.2 389.3,510.6 389.6,505.7 389.8,505.0 390.1,509.1 390.3,508.8 390.6,508.8 390.8,509.3 391.1,506.6 391.3,507.6 391.6,512.0 391.8,511.9 392.1,509.0 392.3,513.9 392.6,508.7 392.8,509.8 393.1,511.6 393.3,509.1 393.6,510.6 393.8,511.3 394.1,511.1 394.3,513.7 394.6,513.4 394.8,510.4 395.1,511.4 395.3,513.2 395.6,512.9 395.8,511.8 396.1,514.3 396.3,515.2 396.6,512.7 396.8,515.6 397.1,511.1 397.3,511.3 397.6,515.7 397.8,513.2 398.1,513.1 398.3,514.7 398.6,514.0 398.8,516.2 399.1,512.8 399.3,515.2 399.6,520.8 399.8,516.5 400.1,512.5 400.3,517.8 400.6,517.9 400.8,519.8 401.1,517.4 401.3,515.9 401.6,520.4 401.8,519.2 402.1,514.0 402.3,519.6 402.6,517.7 402.8,520.7 403.1,517.7 403.3,520.4 403.6,519.3 403.8,520.3 404.1,519.2 404.3,518.5 404.6,519.7 404.8,521.2 405.1,520.9 405.3,523.7 405.6,521.2 405.8,521.9 406.1,525.4 406.3,521.0 406.6,522.2 406.8,519.8 407.1,521.4 407.3,525.3 407.6,522.4 407.8,525.2 408.1,519.5 408.3,518.9 408.6,523.1 408.8,519.3 409.1,528.2 409.3,525.9 409.6,520.1 409.8,522.9 410.1,522.0 410.3,524.6 410.6,523.6 410.8,526.2 411.1,527.7 411.3,523.8 411.6,521.6 411.8,526.1 412.1,524.4 412.3,527.9 412.6,524.8 412.8,527.4 413.1,526.4 413.3,525.2 413.6,524.7 413.8,527.9 414.1,532.2 414.3,528.6 414.6,526.2 414.8,528.6 415.1,527.2 415.3,523.7 415.6,528.1 415.8,531.6 416.1,526.8 416.3,524.8 416.6,529.3 416.8,533.1 417.1,530.9 417.3,531.2 417.6,534.9 417.8,533.2 418.1,530.9 418.3,528.5 418.6,529.6 418.8,529.1 419.1,531.9 419.3,527.2 419.6,534.2 419.8,530.4 420.1,529.0 420.3,532.6 420.6,524.5 420.8,528.2 421.1,528.8 421.3,533.2 421.6,529.6 421.8,535.3 422.1,530.0 422.3,533.0 422.6,529.6 422.8,535.2 423.1,531.2 423.3,533.6 423.6,530.8 423.8,529.1 424.1,531.8 424.3,536.0 424.6,529.8 424.8,528.4 425.1,532.2 425.3,535.7 425.6,530.2 425.8,531.9 426.1,534.3 426.3,532.9 426.6,534.9 426.8,537.8 427.1,534.3 427.3,534.2 427.6,536.9 427.8,534.5 428.1,531.8 428.3,531.7 428.6,531.5 428.8,541.3 429.1,535.2 429.3,537.3 429.6,537.9 429.8,532.7 430.1,537.9 430.3,534.1 430.6,529.3 430.8,535.5 431.1,532.8 431.3,535.4 431.6,537.7 431.8,544.3 432.1,535.2 432.3,536.4 432.6,538.4 432.8,537.9 433.1,536.8 433.3,533.9 433.6,534.4 433.8,537.1 434.1,534.0 434.3,535.8 434.6,533.9 434.8,542.1 435.1,533.3 435.3,545.1 435.6,536.7 435.8,535.1 436.1,534.8 436.3,541.8 436.6,542.8 436.8,536.3 437.1,540.6 437.3,539.0 437.6,538.8 437.8,540.3 438.1,542.6 438.3,533.2 438.6,532.2 438.8,541.0 439.1,540.1 439.3,543.0 439.6,534.5 439.8,537.2 440.1,546.5 440.3,536.2 440.6,542.5 440.8,538.3 441.1,539.9 441.3,536.4 441.6,546.0 441.8,534.7 442.1,537.4 442.3,538.6 442.6,546.5 442.8,543.3 443.1,544.9 443.3,542.4 443.6,543.5 443.8,544.6 444.1,548.7 444.3,543.9 444.6,537.4 444.8,547.6 445.1,543.7 445.3,539.2 445.6,542.9 445.8,539.9 446.1,551.9 446.3,542.6 446.6,536.2 446.8,545.4 447.1,541.0 447.3,549.5 447.6,545.1 447.8,537.6 448.1,542.8 448.3,540.5 448.6,542.0 448.8,542.6 449.1,537.2 449.3,546.2 449.6,542.0 449.8,542.0 450.1,548.8 450.3,553.6 450.6,543.4 450.8,553.6 451.1,537.7 451.3,548.7 451.6,544.1 451.8,546.3 452.1,542.6 452.3,544.4 452.6,545.7 452.8,545.6 453.1,549.0 453.3,557.1 453.6,544.8 453.8,546.9 454.1,540.2 454.3,538.0 454.6,553.9 454.8,542.3 455.1,545.0 455.3,548.4 455.6,552.4 455.8,549.9 456.1,556.8 456.3,548.0 456.6,540.9 456.8,549.7 457.1,549.7 457.3,545.7 457.6,547.9 457.8,546.9 458.1,557.4 458.3,547.0 458.6,543.6 458.8,551.3 459.1,541.9 459.3,552.2 459.6,552.2 459.8,546.7 460.1,548.1 460.3,548.0 460.6,558.3 460.8,552.8 461.1,545.5 461.3,545.4 461.6,550.9 461.8,551.3 462.1,547.8 462.3,552.8 462.6,550.6 462.8,556.7 463.1,553.8 463.3,551.4 463.6,552.5 463.8,547.8 464.1,556.2 464.3,553.9 464.6,550.2 464.8,552.8 465.1,549.8 465.3,563.4 465.6,550.3 465.8,555.1 466.1,554.4 466.3,548.9 466.6,552.8 466.8,551.3 467.1,554.2 467.3,554.3 467.6,556.9 467.8,557.0 468.1,551.3 468.3,550.8 468.6,550.6 468.8,549.3 469.1,545.0 469.3,556.7 469.6,553.4 469.8,552.8 470.1,545.7 470.3,546.6 470.6,542.6 470.8,553.6 471.1,557.6 471.3,557.3 471.6,554.0 471.8,549.1 472.1,554.5 472.3,554.6 472.6,558.3 472.8,558.7 473.1,553.5 473.3,554.8 473.6,558.6 473.8,557.4 474.1,554.3 474.3,544.2 474.6,551.9 474.8,559.7 475.1,556.3 475.3,560.5 475.6,553.9 475.8,556.2 476.1,559.9 476.3,559.5 476.6,558.0 476.8,561.7 477.1,563.1 477.3,563.5 477.6,547.6 477.8,553.8 478.1,554.7 478.3,554.6 478.6,548.0 478.8,563.6 479.1,551.5 479.3,557.4 479.6,544.7 479.8,554.3 480.1,555.7 480.3,552.2 480.6,561.2 480.8,569.7 481.1,552.7 481.3,552.8 481.6,567.0 481.8,560.7 482.1,556.0 482.3,550.9 482.6,561.9 482.8,559.1 483.1,566.5 483.3,553.3 483.6,557.2 483.8,556.6 484.1,557.2 484.3,564.2 484.6,563.2 484.8,555.0 485.1,558.2 485.3,557.5 485.6,563.8 485.8,557.9 486.1,552.7 486.3,557.1 486.6,558.9 486.8,564.4 487.1,566.5 487.3,566.6 487.6,561.5 487.8,556.6 488.1,562.9 488.3,558.6 488.6,556.2 488.8,561.5 489.1,562.2 489.3,565.0 489.6,554.9 489.8,550.6 490.1,563.1 490.3,554.7 490.6,566.1 490.8,554.1 491.1,557.2 491.3,550.1 491.6,572.6 491.8,558.1 492.1,560.4 492.3,557.8 492.6,559.6 492.8,565.9 493.1,561.8 493.3,561.1 493.6,568.3 493.8,553.4 494.1,568.2 494.3,571.0 494.6,553.3 494.8,563.3 495.1,554.1 495.3,549.2 495.6,556.8 495.8,565.2 496.1,566.7 496.3,560.0 496.6,557.0 496.8,559.7 497.1,558.1 497.3,558.7 497.6,548.7 497.8,561.2 498.1,562.0 498.3,576.2 498.6,567.1 498.8,562.1 499.1,563.5 499.3,565.2 499.6,558.9 499.8,550.4 500.1,558.8 500.3,562.0 500.6,564.2 500.8,559.1 501.1,557.9 501.3,562.1 501.6,564.2 501.8,567.5 502.1,562.5 502.3,566.8 502.6,557.8 502.8,569.4 503.1,564.0 503.3,555.7 503.6,562.9 503.8,565.2 504.1,557.8 504.3,569.4 504.6,562.7 504.8,567.8 505.1,558.6 505.3,567.1 505.6,569.8 505.8,562.4 506.1,564.1 506.3,561.7 506.6,567.6 506.8,565.8 507.1,568.9 507.3,565.3 507.6,557.4 507.8,557.2 508.1,563.0 508.3,569.1 508.6,581.1 508.8,572.0 509.1,562.2 509.3,552.9 509.6,569.9 509.8,566.7 510.1,558.5 510.3,572.7 510.6,566.8 510.8,564.1 511.1,553.9 511.3,573.6 511.6,567.6 511.8,565.5 512.0,560.7 512.3,564.9 512.5,575.9 512.8,571.1 513.0,581.4 513.3,575.0 513.5,570.2 513.8,574.1 514.0,569.1 514.3,558.0 514.5,563.9 514.8,570.5 515.0,561.8 515.3,564.8 515.5,559.7 515.8,580.4 516.0,559.4 516.3,561.4 516.5,562.6 516.8,575.7" fill="none" stroke="#c0702a" stroke-width="1.15" stroke-linejoin="round" stroke-linecap="round" />
<polyline points="318.5,606.0 318.7,500.0 319.0,420.0 319.3,407.6 319.6,410.5 319.8,413.7 320.1,416.5 320.3,419.9 320.6,420.8 320.8,421.8 321.1,422.6 321.3,423.7 321.6,424.5 321.8,425.2 322.1,426.7 322.3,427.5 322.6,428.3 322.8,428.5 323.1,429.0 323.3,429.6 323.6,430.0 323.8,431.3 324.1,431.3 324.3,431.9 324.6,432.8 324.8,433.9 325.1,434.2 325.3,434.4 325.6,435.0 325.8,436.0 326.1,436.3 326.3,436.6 326.6,437.3 326.8,438.1 327.1,439.1 327.3,438.6 327.6,439.3 327.8,439.8 328.1,439.8 328.3,440.8 328.6,441.3 328.8,442.6 329.1,442.6 329.3,442.6 329.6,444.0 329.8,444.2 330.1,444.2 330.3,445.1 330.6,445.7 330.8,446.1 331.1,447.0 331.3,446.6 331.6,447.9 331.8,448.9 332.1,449.3 332.3,449.9 332.6,450.4 332.8,451.0 333.1,450.3 333.3,451.7 333.6,450.9 333.8,452.0 334.1,451.9 334.3,453.7 334.6,454.3 334.8,454.1 335.1,455.5 335.3,454.8 335.6,455.6 335.8,456.1 336.1,456.0 336.3,457.2 336.6,458.5 336.8,457.4 337.1,458.9 337.3,458.8 337.6,460.3 337.8,460.1 338.1,460.7 338.3,461.1 338.6,461.4 338.8,460.9 339.1,463.0 339.3,461.8 339.6,463.2 339.8,463.8 340.1,463.3 340.3,464.3 340.6,465.3 340.8,465.0 341.1,464.9 341.3,464.4 341.6,465.6 341.8,466.2 342.1,466.7 342.3,466.8 342.6,468.1 342.8,467.8 343.1,468.5 343.3,469.5 343.6,468.8 343.8,469.6 344.1,471.7 344.3,471.2 344.6,470.1 344.8,471.3 345.1,472.2 345.3,473.1 345.6,472.7 345.8,472.6 346.1,472.9 346.3,474.3 346.6,474.4 346.8,474.2 347.1,474.8 347.3,475.0 347.6,476.3 347.8,475.6 348.1,476.9 348.3,477.6 348.6,477.7 348.8,477.0 349.1,479.2 349.3,477.9 349.6,479.2 349.8,478.6 350.1,478.1 350.3,480.2 350.6,480.6 350.8,480.7 351.1,481.4 351.3,481.0 351.6,481.3 351.8,482.2 352.1,484.6 352.3,483.9 352.6,483.1 352.8,484.5 353.1,483.9 353.3,484.3 353.6,486.0 353.8,485.1 354.1,484.3 354.3,485.5 354.6,486.9 354.8,487.3 355.1,488.9 355.3,487.2 355.6,489.1 355.8,489.2 356.1,489.0 356.3,490.5 356.6,490.5 356.8,489.4 357.1,492.0 357.3,489.8 357.6,491.6 357.8,492.0 358.1,492.9 358.3,491.9 358.6,493.1 358.8,493.4 359.1,495.2 359.3,493.3 359.6,494.7 359.8,494.6 360.1,493.5 360.3,498.3 360.6,495.6 360.8,494.1 361.1,498.1 361.3,495.2 361.6,497.3 361.8,498.2 362.1,496.6 362.3,497.1 362.6,497.3 362.8,498.1 363.1,496.4 363.3,497.1 363.6,498.9 363.8,500.8 364.1,500.5 364.3,502.3 364.6,501.2 364.8,499.8 365.1,500.6 365.3,498.2 365.6,500.0 365.8,500.2 366.1,502.3 366.3,503.1 366.6,501.6 366.8,501.9 367.1,500.7 367.3,503.1 367.6,504.0 367.8,504.6 368.1,503.0 368.3,507.5 368.6,506.6 368.8,504.9 369.1,504.4 369.3,505.0 369.6,506.0 369.8,505.9 370.1,507.0 370.3,507.7 370.6,508.9 370.8,508.8 371.1,507.0 371.3,508.0 371.6,507.0 371.8,506.9 372.1,511.3 372.3,507.5 372.6,511.9 372.8,508.2 373.1,509.5 373.3,511.1 373.6,509.5 373.8,510.4 374.1,509.6 374.3,509.4 374.6,510.2 374.8,509.5 375.1,513.9 375.3,510.9 375.6,514.5 375.8,507.4 376.1,511.9 376.3,513.2 376.6,511.8 376.8,514.6 377.1,514.0 377.3,512.5 377.6,514.1 377.8,517.9 378.1,514.3 378.3,514.6 378.6,513.4 378.8,514.7 379.1,512.2 379.3,514.5 379.6,519.7 379.8,517.5 380.1,516.9 380.3,518.1 380.6,519.9 380.8,517.5 381.1,520.8 381.3,519.0 381.6,517.4 381.8,520.8 382.1,512.7 382.3,516.5 382.6,518.5 382.8,516.2 383.1,518.1 383.3,517.3 383.6,517.5 383.8,524.1 384.1,520.7 384.3,519.5 384.6,522.7 384.8,519.5 385.1,522.2 385.3,521.3 385.6,524.4 385.8,517.7 386.1,522.9 386.3,521.7 386.6,519.0 386.8,524.4 387.1,520.1 387.3,526.2 387.6,523.8 387.8,524.5 388.1,523.2 388.3,525.4 388.6,518.9 388.8,523.8 389.1,522.2 389.3,524.6 389.6,524.0 389.8,525.8 390.1,522.4 390.3,529.2 390.6,530.6 390.8,524.5 391.1,525.2 391.3,526.1 391.6,528.8 391.8,530.6 392.1,522.8 392.3,524.5 392.6,523.5 392.8,523.6 393.1,522.4 393.3,527.8 393.6,524.0 393.8,531.1 394.1,529.8 394.3,524.8 394.6,525.0 394.8,526.3 395.1,531.9 395.3,526.0 395.6,524.4 395.8,528.5 396.1,529.8 396.3,527.2 396.6,533.6 396.8,530.0 397.1,530.8 397.3,527.3 397.6,529.8 397.8,529.6 398.1,523.8 398.3,531.2 398.6,525.4 398.8,530.6 399.1,526.6 399.3,536.9 399.6,532.2 399.8,533.9 400.1,534.2 400.3,527.8 400.6,525.2 400.8,531.1 401.1,534.9 401.3,532.6 401.6,534.9 401.8,535.5 402.1,528.4 402.3,533.9 402.6,539.2 402.8,531.6 403.1,527.3 403.3,533.0 403.6,532.4 403.8,535.3 404.1,531.4 404.3,534.6 404.6,527.6 404.8,537.3 405.1,539.8 405.3,539.1 405.6,530.3 405.8,536.3 406.1,528.1 406.3,536.6 406.6,535.6 406.8,532.7 407.1,537.3 407.3,536.8 407.6,539.5 407.8,537.0 408.1,537.4 408.3,530.4 408.6,533.1 408.8,535.4 409.1,538.1 409.3,537.2 409.6,542.4 409.8,534.6 410.1,536.8 410.3,538.6 410.6,537.1 410.8,539.7 411.1,536.2 411.3,543.1 411.6,537.3 411.8,542.3 412.1,538.5 412.3,543.9 412.6,534.0 412.8,540.8 413.1,537.6 413.3,540.0 413.6,543.5 413.8,535.4 414.1,534.9 414.3,536.2 414.6,540.7 414.8,533.2 415.1,540.4 415.3,535.6 415.6,536.2 415.8,539.1 416.1,541.9 416.3,538.4 416.6,539.0 416.8,540.8 417.1,540.0 417.3,532.7 417.6,539.7 417.8,541.6 418.1,545.5 418.3,549.1 418.6,544.1 418.8,542.1 419.1,538.3 419.3,542.3 419.6,545.0 419.8,546.9 420.1,539.0 420.3,543.3 420.6,545.6 420.8,549.7 421.1,543.7 421.3,540.7 421.6,540.3 421.8,541.7 422.1,540.6 422.3,546.4 422.6,547.5 422.8,546.2 423.1,548.2 423.3,541.9 423.6,545.2 423.8,542.4 424.1,544.1 424.3,548.9 424.6,544.1 424.8,536.9 425.1,543.4 425.3,541.7 425.6,538.6 425.8,541.6 426.1,548.6 426.3,551.6 426.6,543.1 426.8,549.2 427.1,550.0 427.3,540.6 427.6,545.3 427.8,545.4 428.1,546.3 428.3,539.2 428.6,544.4 428.8,550.3 429.1,551.2 429.3,553.7 429.6,544.9 429.8,554.1 430.1,549.2 430.3,540.9 430.6,549.8 430.8,545.3 431.1,549.1 431.3,546.5 431.6,552.2 431.8,548.3 432.1,546.1 432.3,551.5 432.6,548.6 432.8,545.8 433.1,553.2 433.3,546.1 433.6,545.2 433.8,545.7 434.1,541.8 434.3,545.8 434.6,556.4 434.8,544.5 435.1,548.6 435.3,543.8 435.6,546.1 435.8,555.5 436.1,552.9 436.3,546.4 436.6,549.2 436.8,545.7 437.1,546.0 437.3,545.6 437.6,545.8 437.8,551.4 438.1,552.8 438.3,552.5 438.6,549.6 438.8,544.3 439.1,550.4 439.3,546.6 439.6,555.0 439.8,553.7 440.1,554.7 440.3,549.8 440.6,543.1 440.8,556.2 441.1,557.6 441.3,545.0 441.6,552.8 441.8,558.0 442.1,547.3 442.3,561.1 442.6,551.1 442.8,547.7 443.1,559.7 443.3,554.6 443.6,550.1 443.8,557.8 444.1,544.0 444.3,562.7 444.6,549.9 444.8,555.5 445.1,552.2 445.3,556.5 445.6,559.0 445.8,550.5 446.1,558.8 446.3,553.5 446.6,551.6 446.8,554.1 447.1,550.2 447.3,551.4 447.6,560.6 447.8,555.1 448.1,561.9 448.3,558.4 448.6,550.9 448.8,546.5 449.1,553.0 449.3,558.1 449.6,556.9 449.8,552.6 450.1,562.6 450.3,547.9 450.6,550.7 450.8,558.3 451.1,569.6 451.3,560.2 451.6,552.6 451.8,561.4 452.1,562.1 452.3,563.7 452.6,556.4 452.8,554.3 453.1,559.6 453.3,561.4 453.6,568.2 453.8,571.1 454.1,555.4 454.3,556.7 454.6,559.5 454.8,558.5 455.1,562.9 455.3,563.1 455.6,561.9 455.8,568.3 456.1,559.8 456.3,554.7 456.6,551.9 456.8,555.1 457.1,555.1 457.3,550.3 457.6,565.5 457.8,562.8 458.1,559.4 458.3,556.7 458.6,552.7 458.8,556.8 459.1,573.7 459.3,549.2 459.6,563.6 459.8,567.5 460.1,563.9 460.3,561.3 460.6,568.1 460.8,556.7 461.1,567.0 461.3,572.6 461.6,557.2 461.8,558.7 462.1,564.7 462.3,570.2 462.6,572.4 462.8,568.4 463.1,559.9 463.3,557.2 463.6,565.9 463.8,566.9 464.1,557.5 464.3,564.9 464.6,566.7 464.8,571.4 465.1,558.4 465.3,568.4 465.6,557.4 465.8,562.2 466.1,564.6 466.3,574.9 466.6,580.1 466.8,566.9 467.1,568.6 467.3,572.0 467.6,556.6 467.8,570.6 468.1,557.5 468.3,576.4 468.6,575.3 468.8,569.2 469.1,560.6 469.3,577.0 469.6,567.8 469.8,566.9 470.1,570.1 470.3,555.0 470.6,569.2 470.8,573.1 471.1,568.8 471.3,567.6 471.6,560.3 471.8,571.1 472.1,568.2 472.3,567.0 472.6,563.2 472.8,572.9 473.1,575.6 473.3,569.8 473.6,573.4 473.8,576.4 474.1,578.3 474.3,569.1 474.6,566.1 474.8,564.8 475.1,567.8 475.3,571.6 475.6,574.3 475.8,565.0 476.1,569.1 476.3,561.2 476.6,576.9 476.8,565.5 477.1,570.8 477.3,563.4 477.6,566.4 477.8,563.8 478.1,580.6 478.3,571.2 478.6,567.6 478.8,562.2 479.1,564.7 479.3,573.0 479.6,580.7 479.8,559.1 480.1,562.8 480.3,568.1 480.6,565.0 480.8,557.8 481.1,569.7 481.3,574.9 481.6,558.6 481.8,571.2 482.1,576.6 482.3,576.8 482.6,567.0 482.8,586.1 483.1,574.0 483.3,564.5 483.6,577.2 483.8,562.5 484.1,576.7 484.3,561.7 484.6,576.1 484.8,566.6 485.1,578.6 485.3,576.0 485.6,574.0 485.8,571.3 486.1,578.6 486.3,558.5 486.6,574.2 486.8,574.1 487.1,575.2 487.3,577.2 487.6,587.6 487.8,572.3 488.1,577.2 488.3,572.7 488.6,582.7 488.8,557.6 489.1,583.7 489.3,567.1 489.6,556.1 489.8,564.5 490.1,570.8 490.3,573.5 490.6,571.9 490.8,578.0 491.1,572.1 491.3,571.9 491.6,557.4 491.8,575.9 492.1,579.6 492.3,569.7 492.6,559.5 492.8,563.4 493.1,584.5 493.3,568.6 493.6,568.2 493.8,567.2 494.1,577.8 494.3,569.0 494.6,567.1 494.8,562.7 495.1,572.5 495.3,580.3 495.6,572.3 495.8,579.6 496.1,574.7 496.3,574.6 496.6,574.9 496.8,573.9 497.1,580.9 497.3,577.2 497.6,569.8 497.8,574.8 498.1,573.4 498.3,577.4 498.6,575.4 498.8,577.1 499.1,563.9 499.3,576.9 499.6,583.5 499.8,564.9 500.1,585.7 500.3,576.6 500.6,573.1 500.8,562.0 501.1,582.3 501.3,568.0 501.6,571.2 501.8,578.7 502.1,567.7 502.3,568.1 502.6,567.0 502.8,574.3 503.1,579.3 503.3,578.0 503.6,578.1 503.8,572.9 504.1,576.4 504.3,570.6 504.6,589.5 504.8,576.9 505.1,562.0 505.3,568.2 505.6,587.0 505.8,566.3 506.1,572.8 506.3,578.8 506.6,568.3 506.8,583.5 507.1,587.9 507.3,570.4 507.6,584.1 507.8,570.1 508.1,569.4 508.3,578.1 508.6,578.1 508.8,572.4 509.1,582.5 509.3,566.4 509.6,570.7 509.8,569.2 510.1,582.1 510.3,582.5 510.6,581.6 510.8,567.9 511.1,578.0 511.3,580.3 511.6,565.9 511.8,571.5 512.0,581.8 512.3,582.3 512.5,579.2 512.8,581.3 513.0,579.8 513.3,578.7 513.5,576.9 513.8,571.6 514.0,576.1 514.3,575.0 514.5,594.0 514.8,579.8 515.0,578.0 515.3,576.5 515.5,577.3 515.8,576.3 516.0,582.1 516.3,578.1 516.5,584.1 516.8,573.6" fill="none" stroke="#a4cf55" stroke-width="1.15" stroke-linejoin="round" stroke-linecap="round" />
<polyline points="318.5,606.0 318.7,500.0 319.0,420.0 319.3,407.0 319.6,409.6 319.8,411.8 320.1,414.6 320.3,416.9 320.6,419.2 320.8,420.5 321.1,421.6 321.3,422.4 321.6,422.9 321.8,424.2 322.1,424.9 322.3,425.8 322.6,426.4 322.8,426.6 323.1,427.6 323.3,428.0 323.6,429.2 323.8,429.6 324.1,430.1 324.3,430.5 324.6,431.4 324.8,432.0 325.1,432.3 325.3,433.9 325.6,433.9 325.8,434.8 326.1,434.5 326.3,435.8 326.6,435.5 326.8,436.2 327.1,437.1 327.3,437.5 327.6,437.3 327.8,438.2 328.1,439.3 328.3,440.3 328.6,440.4 328.8,440.6 329.1,441.5 329.3,441.3 329.6,442.4 329.8,442.3 330.1,443.3 330.3,443.8 330.6,444.7 330.8,444.8 331.1,445.9 331.3,445.9 331.6,446.8 331.8,447.2 332.1,446.6 332.3,447.8 332.6,448.3 332.8,448.4 333.1,449.2 333.3,449.0 333.6,450.3 333.8,450.7 334.1,451.1 334.3,452.4 334.6,452.0 334.8,452.3 335.1,452.4 335.3,453.3 335.6,453.2 335.8,454.7 336.1,454.2 336.3,455.1 336.6,456.4 336.8,456.4 337.1,456.4 337.3,457.5 337.6,457.2 337.8,458.1 338.1,458.1 338.3,458.1 338.6,459.2 338.8,460.0 339.1,459.7 339.3,459.7 339.6,460.3 339.8,459.7 340.1,461.0 340.3,461.1 340.6,463.2 340.8,462.1 341.1,461.8 341.3,463.6 341.6,463.3 341.8,463.8 342.1,464.2 342.3,464.6 342.6,464.6 342.8,465.8 343.1,465.9 343.3,465.6 343.6,466.1 343.8,466.0 344.1,467.1 344.3,467.8 344.6,468.1 344.8,468.4 345.1,468.3 345.3,469.7 345.6,468.9 345.8,469.4 346.1,469.5 346.3,470.2 346.6,470.3 346.8,472.2 347.1,471.4 347.3,470.2 347.6,471.4 347.8,471.0 348.1,473.0 348.3,473.7 348.6,472.7 348.8,473.8 349.1,473.5 349.3,474.3 349.6,475.6 349.8,474.3 350.1,474.0 350.3,475.8 350.6,475.9 350.8,476.4 351.1,477.0 351.3,475.9 351.6,475.2 351.8,478.0 352.1,477.1 352.3,476.8 352.6,477.1 352.8,479.3 353.1,478.9 353.3,479.4 353.6,480.3 353.8,479.5 354.1,479.5 354.3,480.1 354.6,480.3 354.8,481.5 355.1,481.4 355.3,482.6 355.6,482.6 355.8,483.4 356.1,484.5 356.3,485.7 356.6,486.3 356.8,485.3 357.1,485.8 357.3,485.5 357.6,487.5 357.8,488.5 358.1,486.7 358.3,488.6 358.6,487.8 358.8,488.4 359.1,489.2 359.3,489.0 359.6,490.6 359.8,488.3 360.1,489.4 360.3,490.3 360.6,489.5 360.8,491.4 361.1,489.5 361.3,491.5 361.6,490.1 361.8,491.8 362.1,492.8 362.3,495.1 362.6,494.0 362.8,494.9 363.1,493.4 363.3,496.0 363.6,493.5 363.8,493.7 364.1,492.7 364.3,494.8 364.6,496.1 364.8,494.3 365.1,494.9 365.3,495.0 365.6,495.4 365.8,495.4 366.1,494.6 366.3,498.4 366.6,494.3 366.8,495.9 367.1,497.8 367.3,499.0 367.6,497.6 367.8,497.8 368.1,498.5 368.3,498.3 368.6,500.1 368.8,498.5 369.1,498.1 369.3,499.0 369.6,500.0 369.8,501.8 370.1,502.5 370.3,499.9 370.6,498.6 370.8,498.9 371.1,504.2 371.3,500.8 371.6,502.2 371.8,504.5 372.1,501.0 372.3,501.9 372.6,501.6 372.8,501.0 373.1,504.0 373.3,504.6 373.6,500.5 373.8,505.0 374.1,503.3 374.3,504.2 374.6,504.4 374.8,502.3 375.1,504.1 375.3,503.2 375.6,508.0 375.8,508.6 376.1,505.5 376.3,503.7 376.6,507.7 376.8,505.7 377.1,509.1 377.3,509.7 377.6,509.4 377.8,506.3 378.1,505.5 378.3,506.2 378.6,507.4 378.8,506.2 379.1,510.0 379.3,509.3 379.6,508.3 379.8,507.9 380.1,509.9 380.3,511.4 380.6,505.9 380.8,509.8 381.1,509.1 381.3,508.6 381.6,509.5 381.8,510.5 382.1,513.8 382.3,510.8 382.6,510.1 382.8,508.9 383.1,512.7 383.3,510.2 383.6,511.5 383.8,513.3 384.1,512.3 384.3,511.7 384.6,512.3 384.8,514.5 385.1,513.0 385.3,513.7 385.6,514.2 385.8,513.0 386.1,514.5 386.3,513.5 386.6,516.5 386.8,515.5 387.1,511.3 387.3,514.5 387.6,517.3 387.8,514.9 388.1,514.7 388.3,517.7 388.6,513.7 388.8,516.3 389.1,517.5 389.3,518.3 389.6,514.6 389.8,514.3 390.1,520.2 390.3,515.7 390.6,517.3 390.8,522.5 391.1,516.9 391.3,513.4 391.6,523.2 391.8,520.6 392.1,519.4 392.3,523.8 392.6,518.9 392.8,522.4 393.1,519.4 393.3,519.0 393.6,521.2 393.8,522.0 394.1,523.0 394.3,523.1 394.6,519.4 394.8,520.6 395.1,525.4 395.3,522.5 395.6,521.6 395.8,524.6 396.1,525.0 396.3,524.9 396.6,520.8 396.8,521.4 397.1,524.3 397.3,525.5 397.6,520.0 397.8,522.0 398.1,522.7 398.3,525.8 398.6,521.0 398.8,529.3 399.1,524.1 399.3,525.6 399.6,529.7 399.8,526.0 400.1,526.5 400.3,524.3 400.6,526.1 400.8,522.5 401.1,525.1 401.3,525.5 401.6,523.1 401.8,528.4 402.1,527.1 402.3,521.4 402.6,528.3 402.8,524.1 403.1,528.2 403.3,524.7 403.6,526.0 403.8,528.3 404.1,532.4 404.3,523.5 404.6,526.7 404.8,526.9 405.1,530.9 405.3,527.5 405.6,529.5 405.8,532.1 406.1,530.8 406.3,527.7 406.6,527.8 406.8,528.5 407.1,529.8 407.3,527.1 407.6,529.5 407.8,531.4 408.1,528.6 408.3,528.7 408.6,531.0 408.8,532.6 409.1,526.6 409.3,527.7 409.6,534.4 409.8,530.7 410.1,527.8 410.3,531.4 410.6,535.8 410.8,529.5 411.1,528.7 411.3,530.8 411.6,536.4 411.8,529.9 412.1,533.5 412.3,535.1 412.6,534.1 412.8,531.3 413.1,534.4 413.3,533.1 413.6,535.2 413.8,534.0 414.1,533.4 414.3,527.9 414.6,535.2 414.8,533.0 415.1,527.2 415.3,533.5 415.6,534.7 415.8,533.5 416.1,526.9 416.3,531.9 416.6,531.3 416.8,533.4 417.1,527.3 417.3,535.5 417.6,536.4 417.8,536.6 418.1,534.8 418.3,534.7 418.6,538.3 418.8,536.7 419.1,534.0 419.3,536.4 419.6,537.7 419.8,539.5 420.1,537.2 420.3,533.3 420.6,534.4 420.8,536.8 421.1,537.1 421.3,539.5 421.6,530.2 421.8,534.1 422.1,532.8 422.3,540.2 422.6,539.3 422.8,537.9 423.1,539.6 423.3,535.2 423.6,538.9 423.8,537.5 424.1,537.7 424.3,537.1 424.6,540.8 424.8,541.2 425.1,533.0 425.3,536.1 425.6,538.2 425.8,540.0 426.1,532.7 426.3,535.1 426.6,537.3 426.8,544.4 427.1,535.6 427.3,537.3 427.6,538.6 427.8,538.4 428.1,539.4 428.3,538.8 428.6,538.4 428.8,540.1 429.1,540.1 429.3,540.6 429.6,540.8 429.8,535.4 430.1,540.1 430.3,540.2 430.6,542.4 430.8,542.2 431.1,545.3 431.3,537.2 431.6,539.6 431.8,540.9 432.1,538.0 432.3,539.4 432.6,539.1 432.8,538.8 433.1,548.7 433.3,540.4 433.6,546.0 433.8,537.8 434.1,541.9 434.3,538.7 434.6,542.3 434.8,547.2 435.1,548.3 435.3,544.3 435.6,543.1 435.8,541.6 436.1,543.1 436.3,546.8 436.6,535.9 436.8,540.8 437.1,538.5 437.3,545.9 437.6,537.7 437.8,545.6 438.1,538.2 438.3,538.6 438.6,548.4 438.8,546.7 439.1,539.6 439.3,536.5 439.6,539.7 439.8,545.6 440.1,543.3 440.3,540.0 440.6,545.7 440.8,549.1 441.1,539.6 441.3,543.7 441.6,541.0 441.8,548.5 442.1,544.8 442.3,541.9 442.6,538.1 442.8,547.4 443.1,543.7 443.3,545.4 443.6,544.3 443.8,546.7 444.1,538.3 444.3,542.1 444.6,546.8 444.8,552.8 445.1,547.0 445.3,545.5 445.6,543.3 445.8,543.3 446.1,545.2 446.3,543.0 446.6,546.9 446.8,546.5 447.1,554.8 447.3,546.3 447.6,551.4 447.8,545.2 448.1,551.0 448.3,556.7 448.6,544.9 448.8,542.6 449.1,552.0 449.3,547.9 449.6,546.7 449.8,549.8 450.1,549.3 450.3,553.4 450.6,550.1 450.8,545.9 451.1,543.7 451.3,541.2 451.6,544.1 451.8,553.6 452.1,542.7 452.3,549.3 452.6,554.5 452.8,551.9 453.1,556.1 453.3,552.7 453.6,556.5 453.8,547.2 454.1,546.2 454.3,558.6 454.6,551.6 454.8,550.6 455.1,547.7 455.3,557.6 455.6,552.7 455.8,552.9 456.1,547.8 456.3,551.2 456.6,549.0 456.8,550.6 457.1,552.7 457.3,549.0 457.6,547.5 457.8,555.2 458.1,546.9 458.3,558.2 458.6,559.0 458.8,545.5 459.1,559.6 459.3,548.3 459.6,558.5 459.8,549.7 460.1,556.1 460.3,547.7 460.6,555.8 460.8,553.3 461.1,560.5 461.3,556.6 461.6,548.8 461.8,554.7 462.1,550.0 462.3,554.2 462.6,560.8 462.8,561.1 463.1,554.4 463.3,549.7 463.6,554.1 463.8,563.9 464.1,553.2 464.3,546.8 464.6,547.2 464.8,548.2 465.1,559.5 465.3,552.6 465.6,550.6 465.8,556.1 466.1,559.2 466.3,553.8 466.6,550.6 466.8,555.7 467.1,558.8 467.3,546.6 467.6,547.9 467.8,565.0 468.1,557.2 468.3,556.9 468.6,548.2 468.8,550.3 469.1,554.0 469.3,561.8 469.6,555.9 469.8,547.3 470.1,563.5 470.3,563.8 470.6,560.2 470.8,550.2 471.1,552.6 471.3,554.6 471.6,556.7 471.8,565.4 472.1,549.2 472.3,552.6 472.6,556.3 472.8,553.4 473.1,553.8 473.3,548.8 473.6,556.8 473.8,554.9 474.1,557.6 474.3,561.6 474.6,555.4 474.8,556.3 475.1,558.4 475.3,554.7 475.6,558.2 475.8,547.9 476.1,552.7 476.3,560.1 476.6,558.5 476.8,561.9 477.1,550.4 477.3,554.8 477.6,557.3 477.8,557.3 478.1,556.7 478.3,565.6 478.6,555.5 478.8,556.3 479.1,560.9 479.3,560.8 479.6,559.0 479.8,567.4 480.1,561.5 480.3,557.2 480.6,553.3 480.8,565.4 481.1,555.3 481.3,560.9 481.6,556.0 481.8,570.6 482.1,563.0 482.3,549.3 482.6,560.7 482.8,551.6 483.1,556.2 483.3,563.9 483.6,552.2 483.8,561.3 484.1,559.2 484.3,563.9 484.6,554.3 484.8,563.3 485.1,557.8 485.3,565.7 485.6,560.2 485.8,563.8 486.1,567.7 486.3,566.4 486.6,560.1 486.8,564.4 487.1,560.4 487.3,562.9 487.6,569.9 487.8,555.7 488.1,553.9 488.3,563.5 488.6,557.6 488.8,568.0 489.1,566.0 489.3,564.7 489.6,561.0 489.8,558.5 490.1,556.1 490.3,558.1 490.6,561.3 490.8,555.9 491.1,567.6 491.3,565.4 491.6,554.0 491.8,548.2 492.1,568.5 492.3,554.8 492.6,548.4 492.8,552.3 493.1,563.5 493.3,570.5 493.6,568.0 493.8,571.4 494.1,573.4 494.3,574.0 494.6,557.0 494.8,561.8 495.1,559.2 495.3,563.4 495.6,561.0 495.8,564.9 496.1,574.6 496.3,559.1 496.6,568.1 496.8,557.6 497.1,555.7 497.3,570.0 497.6,563.0 497.8,564.3 498.1,573.0 498.3,555.8 498.6,564.6 498.8,573.4 499.1,557.8 499.3,566.0 499.6,570.3 499.8,570.4 500.1,568.9 500.3,570.9 500.6,567.9 500.8,569.9 501.1,567.4 501.3,559.3 501.6,565.9 501.8,564.5 502.1,572.6 502.3,568.7 502.6,568.8 502.8,566.8 503.1,569.9 503.3,562.2 503.6,567.6 503.8,561.5 504.1,563.7 504.3,558.8 504.6,580.6 504.8,570.2 505.1,560.1 505.3,563.9 505.6,568.7 505.8,563.6 506.1,571.5 506.3,569.6 506.6,574.4 506.8,551.3 507.1,572.0 507.3,568.6 507.6,573.8 507.8,563.4 508.1,562.3 508.3,559.7 508.6,570.6 508.8,568.6 509.1,556.1 509.3,563.8 509.6,567.5 509.8,559.7 510.1,565.4 510.3,567.2 510.6,564.1 510.8,557.0 511.1,576.0 511.3,569.9 511.6,570.7 511.8,564.4 512.0,569.7 512.3,563.9 512.5,567.8 512.8,569.7 513.0,572.9 513.3,564.8 513.5,563.6 513.8,577.7 514.0,559.5 514.3,570.6 514.5,568.5 514.8,574.1 515.0,566.5 515.3,562.4 515.5,570.4 515.8,560.3 516.0,562.4 516.3,569.6 516.5,570.7 516.8,559.9" fill="none" stroke="#7cc5e6" stroke-width="1.15" stroke-linejoin="round" stroke-linecap="round" />
<polyline points="318.5,606.0 318.7,500.0 319.0,420.0 319.3,408.2 319.6,413.2 319.8,419.0 320.1,421.3 320.3,424.3 320.6,427.5 320.8,428.1 321.1,429.0 321.3,430.1 321.6,430.8 321.8,431.3 322.1,432.4 322.3,433.1 322.6,434.0 322.8,433.9 323.1,434.8 323.3,435.9 323.6,436.7 323.8,436.3 324.1,437.5 324.3,437.6 324.6,438.2 324.8,438.8 325.1,439.5 325.3,440.5 325.6,440.9 325.8,441.1 326.1,441.4 326.3,441.9 326.6,442.3 326.8,443.1 327.1,443.0 327.3,443.7 327.6,444.1 327.8,444.5 328.1,445.1 328.3,445.5 328.6,446.4 328.8,446.2 329.1,447.3 329.3,447.0 329.6,447.4 329.8,448.1 330.1,448.6 330.3,449.0 330.6,449.9 330.8,450.2 331.1,450.4 331.3,450.5 331.6,451.0 331.8,452.1 332.1,452.1 332.3,451.8 332.6,452.5 332.8,453.0 333.1,454.3 333.3,454.2 333.6,455.7 333.8,455.4 334.1,455.6 334.3,455.8 334.6,456.9 334.8,456.8 335.1,456.9 335.3,458.1 335.6,458.2 335.8,459.3 336.1,459.1 336.3,458.4 336.6,460.5 336.8,459.5 337.1,461.8 337.3,462.4 337.6,461.6 337.8,461.6 338.1,461.9 338.3,463.7 338.6,463.5 338.8,463.7 339.1,464.4 339.3,466.2 339.6,465.5 339.8,466.1 340.1,466.5 340.3,467.0 340.6,467.4 340.8,466.7 341.1,467.4 341.3,467.4 341.6,467.8 341.8,469.4 342.1,468.7 342.3,469.3 342.6,469.3 342.8,469.7 343.1,471.1 343.3,470.6 343.6,470.9 343.8,472.1 344.1,472.6 344.3,473.3 344.6,473.4 344.8,472.5 345.1,474.8 345.3,475.3 345.6,476.2 345.8,475.3 346.1,478.3 346.3,476.0 346.6,478.1 346.8,478.1 347.1,478.2 347.3,479.8 347.6,479.4 347.8,478.2 348.1,479.7 348.3,481.7 348.6,483.8 348.8,481.0 349.1,482.8 349.3,484.7 349.6,484.5 349.8,483.9 350.1,483.3 350.3,483.3 350.6,484.6 350.8,485.3 351.1,483.8 351.3,484.7 351.6,487.1 351.8,486.7 352.1,486.7 352.3,487.4 352.6,487.3 352.8,489.5 353.1,490.6 353.3,491.4 353.6,490.3 353.8,490.7 354.1,491.9 354.3,492.5 354.6,492.6 354.8,492.7 355.1,490.9 355.3,490.2 355.6,493.4 355.8,492.6 356.1,493.0 356.3,492.4 356.6,492.2 356.8,495.8 357.1,495.0 357.3,493.5 357.6,495.7 357.8,495.9 358.1,496.5 358.3,499.1 358.6,496.5 358.8,495.3 359.1,497.3 359.3,496.8 359.6,498.7 359.8,498.6 360.1,499.1 360.3,498.2 360.6,499.8 360.8,498.9 361.1,500.6 361.3,499.8 361.6,499.0 361.8,501.6 362.1,500.2 362.3,503.6 362.6,502.5 362.8,502.9 363.1,502.7 363.3,502.8 363.6,499.7 363.8,505.3 364.1,502.6 364.3,505.6 364.6,503.5 364.8,504.6 365.1,504.8 365.3,503.8 365.6,505.5 365.8,506.9 366.1,505.8 366.3,504.7 366.6,506.1 366.8,507.8 367.1,509.6 367.3,509.4 367.6,508.9 367.8,507.0 368.1,510.6 368.3,509.4 368.6,509.3 368.8,511.6 369.1,511.4 369.3,511.4 369.6,508.8 369.8,510.0 370.1,508.3 370.3,512.0 370.6,512.0 370.8,513.9 371.1,512.9 371.3,512.0 371.6,517.0 371.8,511.3 372.1,511.0 372.3,512.7 372.6,515.1 372.8,513.7 373.1,513.8 373.3,512.7 373.6,518.1 373.8,514.2 374.1,513.6 374.3,515.8 374.6,514.6 374.8,516.1 375.1,519.6 375.3,516.2 375.6,517.3 375.8,516.9 376.1,517.5 376.3,519.9 376.6,519.6 376.8,518.0 377.1,517.0 377.3,519.0 377.6,521.4 377.8,519.8 378.1,519.8 378.3,516.3 378.6,522.9 378.8,517.5 379.1,518.2 379.3,520.5 379.6,521.7 379.8,522.0 380.1,520.4 380.3,521.7 380.6,521.2 380.8,518.6 381.1,522.6 381.3,521.8 381.6,524.7 381.8,523.6 382.1,526.6 382.3,526.2 382.6,526.9 382.8,528.0 383.1,526.9 383.3,525.0 383.6,529.1 383.8,523.6 384.1,526.1 384.3,528.7 384.6,526.0 384.8,528.8 385.1,525.1 385.3,526.0 385.6,529.2 385.8,529.9 386.1,531.5 386.3,528.3 386.6,529.5 386.8,530.7 387.1,530.5 387.3,525.9 387.6,528.1 387.8,534.1 388.1,526.7 388.3,532.2 388.6,529.4 388.8,533.7 389.1,528.8 389.3,531.4 389.6,525.5 389.8,531.5 390.1,535.0 390.3,527.6 390.6,535.8 390.8,530.3 391.1,532.5 391.3,525.9 391.6,536.3 391.8,530.6 392.1,531.8 392.3,529.7 392.6,530.8 392.8,537.6 393.1,532.7 393.3,537.3 393.6,534.1 393.8,536.0 394.1,533.5 394.3,536.6 394.6,542.8 394.8,537.8 395.1,537.5 395.3,534.5 395.6,539.6 395.8,540.9 396.1,531.1 396.3,532.3 396.6,544.1 396.8,538.7 397.1,537.9 397.3,539.6 397.6,541.6 397.8,540.8 398.1,537.5 398.3,545.5 398.6,538.6 398.8,535.7 399.1,537.0 399.3,538.6 399.6,537.9 399.8,538.8 400.1,540.7 400.3,531.6 400.6,537.2 400.8,543.5 401.1,542.3 401.3,538.0 401.6,538.4 401.8,545.0 402.1,540.1 402.3,539.2 402.6,548.2 402.8,540.1 403.1,544.2 403.3,541.7 403.6,542.2 403.8,538.6 404.1,539.2 404.3,547.3 404.6,538.4 404.8,543.9 405.1,538.5 405.3,542.3 405.6,543.3 405.8,537.2 406.1,548.2 406.3,543.2 406.6,548.9 406.8,540.6 407.1,548.0 407.3,553.7 407.6,545.6 407.8,542.3 408.1,546.9 408.3,545.7 408.6,544.4 408.8,544.9 409.1,543.2 409.3,547.4 409.6,544.2 409.8,542.4 410.1,549.4 410.3,545.5 410.6,555.9 410.8,545.4 411.1,543.6 411.3,544.4 411.6,548.4 411.8,544.1 412.1,541.8 412.3,554.2 412.6,542.1 412.8,554.0 413.1,548.3 413.3,543.3 413.6,555.1 413.8,547.2 414.1,543.9 414.3,548.6 414.6,554.1 414.8,551.6 415.1,552.4 415.3,556.6 415.6,550.0 415.8,550.8 416.1,548.3 416.3,542.9 416.6,548.9 416.8,556.9 417.1,542.0 417.3,556.0 417.6,551.3 417.8,546.1 418.1,550.6 418.3,558.6 418.6,548.0 418.8,554.3 419.1,556.0 419.3,546.8 419.6,554.0 419.8,553.7 420.1,549.1 420.3,554.7 420.6,549.9 420.8,549.0 421.1,546.0 421.3,553.8 421.6,550.1 421.8,549.6 422.1,546.9 422.3,545.9 422.6,548.8 422.8,556.2 423.1,548.9 423.3,560.0 423.6,555.1 423.8,554.0 424.1,547.5 424.3,563.1 424.6,546.5 424.8,556.4 425.1,562.2 425.3,553.0 425.6,550.7 425.8,554.2 426.1,559.0 426.3,561.3 426.6,557.7 426.8,549.4 427.1,551.5 427.3,556.1 427.6,548.7 427.8,554.1 428.1,567.0 428.3,550.2 428.6,561.7 428.8,551.0 429.1,554.2 429.3,555.8 429.6,548.4 429.8,555.9 430.1,563.4 430.3,560.5 430.6,560.6 430.8,552.7 431.1,556.4 431.3,558.4 431.6,561.1 431.8,564.8 432.1,552.3 432.3,567.1 432.6,556.4 432.8,556.7 433.1,551.6 433.3,558.0 433.6,557.3 433.8,551.8 434.1,557.2 434.3,559.6 434.6,556.8 434.8,563.6 435.1,553.6 435.3,564.5 435.6,558.6 435.8,561.9 436.1,549.4 436.3,560.8 436.6,559.9 436.8,565.8 437.1,553.7 437.3,568.6 437.6,554.5 437.8,568.7 438.1,564.5 438.3,556.8 438.6,574.3 438.8,554.5 439.1,560.7 439.3,563.1 439.6,565.2 439.8,563.6 440.1,567.2 440.3,565.3 440.6,562.9 440.8,557.1 441.1,560.8 441.3,568.7 441.6,556.1 441.8,564.1 442.1,550.8 442.3,559.4 442.6,553.7 442.8,571.8 443.1,552.7 443.3,562.8 443.6,569.1 443.8,568.5 444.1,569.7 444.3,571.8 444.6,568.1 444.8,570.6 445.1,565.0 445.3,565.4 445.6,554.2 445.8,567.0 446.1,574.4 446.3,561.2 446.6,558.6 446.8,567.1 447.1,574.2 447.3,574.9 447.6,556.8 447.8,570.1 448.1,562.8 448.3,569.3 448.6,552.1 448.8,574.0 449.1,565.1 449.3,569.4 449.6,566.9 449.8,561.1 450.1,572.1 450.3,565.2 450.6,563.9 450.8,573.5 451.1,568.5 451.3,564.3 451.6,575.9 451.8,565.4 452.1,569.4 452.3,575.0 452.6,576.6 452.8,578.5 453.1,581.9 453.3,570.7 453.6,565.0 453.8,582.3 454.1,580.6 454.3,568.9 454.6,576.1 454.8,568.7 455.1,560.6 455.3,578.9 455.6,574.2 455.8,572.8 456.1,583.9 456.3,582.3 456.6,567.9 456.8,564.8 457.1,559.5 457.3,572.9 457.6,570.3 457.8,575.7 458.1,573.4 458.3,568.9 458.6,570.8 458.8,562.9 459.1,582.5 459.3,570.4 459.6,578.5 459.8,569.8 460.1,575.0 460.3,579.1 460.6,572.9 460.8,569.3 461.1,591.2 461.3,573.8 461.6,579.2 461.8,574.8 462.1,570.0 462.3,584.7 462.6,578.3 462.8,578.0 463.1,559.8 463.3,577.8 463.6,581.8 463.8,577.9 464.1,575.0 464.3,584.5 464.6,577.9 464.8,580.3 465.1,583.6 465.3,583.4 465.6,567.3 465.8,579.0 466.1,571.3 466.3,562.7 466.6,578.8 466.8,564.8 467.1,573.7 467.3,561.0 467.6,570.0 467.8,573.9 468.1,577.3 468.3,573.6 468.6,571.0 468.8,571.3 469.1,588.4 469.3,574.4 469.6,577.1 469.8,591.1 470.1,565.8 470.3,563.6 470.6,571.0 470.8,575.4 471.1,570.2 471.3,578.1 471.6,577.8 471.8,567.7 472.1,579.7 472.3,568.6 472.6,583.6 472.8,580.4 473.1,594.2 473.3,584.7 473.6,577.6 473.8,581.5 474.1,580.2 474.3,574.1 474.6,569.2 474.8,587.1 475.1,590.1 475.3,576.3 475.6,577.9 475.8,576.4 476.1,586.9 476.3,588.4 476.6,573.9 476.8,577.7 477.1,576.4 477.3,581.7 477.6,585.7 477.8,587.9 478.1,578.5 478.3,573.7 478.6,584.4 478.8,584.9 479.1,578.4 479.3,582.1 479.6,583.5 479.8,587.2 480.1,581.6 480.3,584.6 480.6,582.6 480.8,574.6 481.1,586.4 481.3,582.2 481.6,589.0 481.8,573.4 482.1,576.9 482.3,584.2 482.6,569.9 482.8,581.1 483.1,579.0 483.3,579.3 483.6,580.5 483.8,566.7 484.1,582.7 484.3,583.0 484.6,589.9 484.8,592.8 485.1,585.2 485.3,589.3 485.6,566.8 485.8,586.8 486.1,590.8 486.3,589.2 486.6,584.9 486.8,580.8 487.1,580.8 487.3,583.6 487.6,586.6 487.8,587.6 488.1,583.0 488.3,575.0 488.6,596.6 488.8,577.8 489.1,567.9 489.3,594.0 489.6,591.2 489.8,585.5 490.1,591.0 490.3,587.4 490.6,578.5 490.8,585.2 491.1,575.9 491.3,580.0 491.6,578.6 491.8,585.8 492.1,592.2 492.3,580.3 492.6,588.1 492.8,570.1 493.1,577.5 493.3,588.9 493.6,591.9 493.8,591.8 494.1,592.8 494.3,573.9 494.6,581.8 494.8,569.4 495.1,584.5 495.3,587.3 495.6,583.3 495.8,579.3 496.1,588.9 496.3,589.6 496.6,586.9 496.8,581.8 497.1,586.4 497.3,586.8 497.6,588.1 497.8,590.7 498.1,586.2 498.3,576.3 498.6,584.6 498.8,589.2 499.1,583.6 499.3,588.3 499.6,582.0 499.8,596.3 500.1,589.8 500.3,588.0 500.6,592.4 500.8,592.5 501.1,587.8 501.3,594.3 501.6,591.9 501.8,588.9 502.1,587.5 502.3,579.8 502.6,589.0 502.8,588.9 503.1,581.9 503.3,597.3 503.6,587.8 503.8,580.4 504.1,585.1 504.3,587.8 504.6,587.9 504.8,582.7 505.1,588.5 505.3,578.1 505.6,585.4 505.8,591.5 506.1,583.8 506.3,593.1 506.6,594.3 506.8,584.6 507.1,572.7 507.3,595.0 507.6,598.4 507.8,577.9 508.1,590.6 508.3,591.4 508.6,577.9 508.8,585.5 509.1,598.2 509.3,591.0 509.6,589.7 509.8,597.8 510.1,585.6 510.3,577.2 510.6,599.3 510.8,584.5 511.1,590.0 511.3,598.3 511.6,592.2 511.8,591.5 512.0,586.1 512.3,594.5 512.5,605.9 512.8,586.6 513.0,582.9 513.3,592.9 513.5,585.7 513.8,591.8 514.0,591.2 514.3,594.5 514.5,592.5 514.8,593.4 515.0,600.2 515.3,584.6 515.5,591.8 515.8,593.8 516.0,583.1 516.3,585.0 516.5,589.4 516.8,588.0" fill="none" stroke="#c2aede" stroke-width="1.15" stroke-linejoin="round" stroke-linecap="round" />
</g>
<path d="M438.3 419.4H454.6" stroke="#9c1a30" stroke-width="1.0"/>
<text x="459.8" y="422.4" font-size="8.6" fill="#111" text-anchor="start" font-weight="normal" font-family='"Liberation Sans", Arial, Helvetica, sans-serif' >8 μm</text>
<path d="M438.3 429.8H454.6" stroke="#c0702a" stroke-width="1.0"/>
<text x="459.8" y="432.8" font-size="8.6" fill="#111" text-anchor="start" font-weight="normal" font-family='"Liberation Sans", Arial, Helvetica, sans-serif' >16 μm</text>
<path d="M438.3 440.3H454.6" stroke="#a4cf55" stroke-width="1.0"/>
<text x="459.8" y="443.3" font-size="8.6" fill="#111" text-anchor="start" font-weight="normal" font-family='"Liberation Sans", Arial, Helvetica, sans-serif' >27 μm</text>
<path d="M438.3 450.8H454.6" stroke="#7cc5e6" stroke-width="1.0"/>
<text x="459.8" y="453.8" font-size="8.6" fill="#111" text-anchor="start" font-weight="normal" font-family='"Liberation Sans", Arial, Helvetica, sans-serif' >30 μm</text>
<path d="M438.3 461.2H454.6" stroke="#c2aede" stroke-width="1.0"/>
<text x="459.8" y="464.2" font-size="8.6" fill="#111" text-anchor="start" font-weight="normal" font-family='"Liberation Sans", Arial, Helvetica, sans-serif' >42 μm</text>
</svg>
</body></html>
